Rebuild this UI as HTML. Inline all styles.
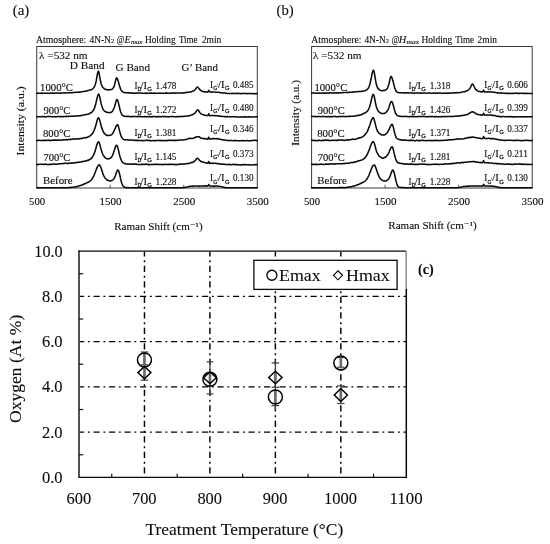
<!DOCTYPE html>
<html lang="en">
<head>
<meta charset="utf-8">
<title>Raman spectra and oxygen content</title>
<style>
html,body{margin:0;padding:0;background:#fff;}
body{width:550px;height:544px;overflow:hidden;font-family:"Liberation Serif","DejaVu Serif",serif;}
svg text{font-family:"Liberation Serif","DejaVu Serif",serif;white-space:pre;}
</style>
</head>
<body>
<svg width="550" height="544" viewBox="0 0 550 544" style="display:block;font-family:'Liberation Serif', 'DejaVu Serif', serif">
<rect x="0" y="0" width="550" height="544" fill="#ffffff"/>
<rect x="36.7" y="46.5" width="220.6" height="141.5" fill="none" stroke="#3a3a3a" stroke-width="1"/>
<line x1="110.2" y1="188.0" x2="110.2" y2="184.8" stroke="#333" stroke-width="0.8"/>
<line x1="183.8" y1="188.0" x2="183.8" y2="184.8" stroke="#333" stroke-width="0.8"/>
<path d="M36.7 93.23 L37.2 93.20 L37.7 93.23 L38.2 93.13 L38.7 93.26 L39.2 93.33 L39.7 93.32 L40.2 93.17 L40.7 93.19 L41.2 93.14 L41.7 93.10 L42.2 93.28 L42.7 93.39 L43.2 93.17 L43.7 93.29 L44.2 93.28 L44.7 93.21 L45.2 93.14 L45.7 93.21 L46.2 93.19 L46.7 93.25 L47.2 93.27 L47.7 93.12 L48.2 93.23 L48.7 93.35 L49.2 93.42 L49.7 93.34 L50.2 93.13 L50.7 93.01 L51.2 92.97 L51.7 93.19 L52.2 93.12 L52.7 93.10 L53.2 93.25 L53.7 93.15 L54.2 93.17 L54.7 93.14 L55.2 93.02 L55.7 93.10 L56.2 93.22 L56.7 93.08 L57.2 93.02 L57.7 93.04 L58.2 92.94 L58.7 93.01 L59.2 93.15 L59.7 93.17 L60.2 93.14 L60.7 93.22 L61.2 93.05 L61.7 93.07 L62.2 93.02 L62.7 93.06 L63.2 92.93 L63.7 93.05 L64.2 92.90 L64.7 92.84 L65.2 92.99 L65.7 93.10 L66.2 93.01 L66.7 92.94 L67.2 92.84 L67.7 92.79 L68.2 92.85 L68.7 92.75 L69.2 92.66 L69.7 92.70 L70.2 92.62 L70.7 92.71 L71.2 92.80 L71.7 92.82 L72.2 92.73 L72.7 92.62 L73.2 92.58 L73.7 92.41 L74.2 92.51 L74.7 92.43 L75.2 92.37 L75.7 92.24 L76.2 92.26 L76.7 92.29 L77.2 92.23 L77.7 92.31 L78.2 92.28 L78.7 92.11 L79.2 92.07 L79.7 92.14 L80.2 92.04 L80.7 91.98 L81.2 91.76 L81.7 91.73 L82.2 91.68 L82.7 91.60 L83.2 91.53 L83.7 91.51 L84.2 91.45 L84.7 91.36 L85.2 91.18 L85.7 91.12 L86.2 91.20 L86.7 91.04 L87.2 90.79 L87.7 90.59 L88.2 90.58 L88.7 90.37 L89.2 90.20 L89.7 90.03 L90.2 89.96 L90.7 89.98 L91.2 89.73 L91.7 89.45 L92.2 89.12 L92.7 88.76 L93.2 88.28 L93.7 87.76 L94.2 87.08 L94.7 86.06 L95.2 84.65 L95.7 82.95 L96.2 80.88 L96.7 78.10 L97.2 75.18 L97.7 72.68 L98.2 71.25 L98.7 71.59 L99.2 73.74 L99.7 76.79 L100.2 79.60 L100.7 82.05 L101.2 83.98 L101.7 85.27 L102.2 86.40 L102.7 87.20 L103.2 87.87 L103.7 88.14 L104.2 88.66 L104.7 89.00 L105.2 89.33 L105.7 89.58 L106.2 89.57 L106.7 89.72 L107.2 89.68 L107.7 89.81 L108.2 90.00 L108.7 89.88 L109.2 89.86 L109.7 89.74 L110.2 89.67 L110.7 89.58 L111.2 89.40 L111.7 89.43 L112.2 89.23 L112.7 88.71 L113.2 88.12 L113.7 87.23 L114.2 85.94 L114.7 84.21 L115.2 82.18 L115.7 79.96 L116.2 78.20 L116.7 77.87 L117.2 78.49 L117.7 79.62 L118.2 81.03 L118.7 82.85 L119.2 84.79 L119.7 86.60 L120.2 88.12 L120.7 89.23 L121.2 90.25 L121.7 90.91 L122.2 91.40 L122.7 91.80 L123.2 92.12 L123.7 92.41 L124.2 92.55 L124.7 92.54 L125.2 92.67 L125.7 92.70 L126.2 92.73 L126.7 92.68 L127.2 92.72 L127.7 92.72 L128.2 92.85 L128.7 92.86 L129.2 92.86 L129.7 92.88 L130.2 92.90 L130.7 92.98 L131.2 93.04 L131.7 93.11 L132.2 93.03 L132.7 93.11 L133.2 93.21 L133.7 93.28 L134.2 93.24 L134.7 93.03 L135.2 93.15 L135.7 93.22 L136.2 93.02 L136.7 93.00 L137.2 93.00 L137.7 93.12 L138.2 93.15 L138.7 93.08 L139.2 93.01 L139.7 92.97 L140.2 92.93 L140.7 93.11 L141.2 93.26 L141.7 93.13 L142.2 93.22 L142.7 93.33 L143.2 93.16 L143.7 93.19 L144.2 93.16 L144.7 93.31 L145.2 93.36 L145.7 93.14 L146.2 93.07 L146.7 93.22 L147.2 93.23 L147.7 93.22 L148.2 93.30 L148.7 93.33 L149.2 93.40 L149.7 93.25 L150.2 93.09 L150.7 93.19 L151.2 93.06 L151.7 93.14 L152.2 93.27 L152.7 93.21 L153.2 93.23 L153.7 93.12 L154.2 93.05 L154.7 93.15 L155.2 93.28 L155.7 93.39 L156.2 93.16 L156.7 93.30 L157.2 93.26 L157.7 93.19 L158.2 93.16 L158.7 93.20 L159.2 93.16 L159.7 93.07 L160.2 93.24 L160.7 93.28 L161.2 93.28 L161.7 93.31 L162.2 93.40 L162.7 93.21 L163.2 93.30 L163.7 93.35 L164.2 93.23 L164.7 93.23 L165.2 93.20 L165.7 93.11 L166.2 93.13 L166.7 93.05 L167.2 93.24 L167.7 93.13 L168.2 93.20 L168.7 93.21 L169.2 93.34 L169.7 93.36 L170.2 93.24 L170.7 93.18 L171.2 93.04 L171.7 92.97 L172.2 93.01 L172.7 93.21 L173.2 93.06 L173.7 93.01 L174.2 93.12 L174.7 93.09 L175.2 93.02 L175.7 93.21 L176.2 93.04 L176.7 93.10 L177.2 93.08 L177.7 93.04 L178.2 92.97 L178.7 92.91 L179.2 92.94 L179.7 93.06 L180.2 93.02 L180.7 93.09 L181.2 93.14 L181.7 92.94 L182.2 93.03 L182.7 92.98 L183.2 92.88 L183.7 92.84 L184.2 92.91 L184.7 92.77 L185.2 92.59 L185.7 92.72 L186.2 92.51 L186.7 92.37 L187.2 92.44 L187.7 92.32 L188.2 92.22 L188.7 92.23 L189.2 92.26 L189.7 92.08 L190.2 92.09 L190.7 91.96 L191.2 91.83 L191.7 91.66 L192.2 91.33 L192.7 91.10 L193.2 91.01 L193.7 90.83 L194.2 90.37 L194.7 90.05 L195.2 89.55 L195.7 88.97 L196.2 88.24 L196.7 87.50 L197.2 87.05 L197.7 87.18 L198.2 87.43 L198.7 88.20 L199.2 88.87 L199.7 89.34 L200.2 90.00 L200.7 90.25 L201.2 90.74 L201.7 90.94 L202.2 91.29 L202.7 91.49 L203.2 91.54 L203.7 91.69 L204.2 91.91 L204.7 91.83 L205.2 91.82 L205.7 91.87 L206.2 92.07 L206.7 92.02 L207.2 92.01 L207.7 92.12 L208.2 91.41 L208.7 90.25 L209.2 91.42 L209.7 92.03 L210.2 91.94 L210.7 91.89 L211.2 91.86 L211.7 92.06 L212.2 92.22 L212.7 92.05 L213.2 92.04 L213.7 91.92 L214.2 91.99 L214.7 92.10 L215.2 92.16 L215.7 92.30 L216.2 92.29 L216.7 92.16 L217.2 92.21 L217.7 92.29 L218.2 92.33 L218.7 92.30 L219.2 92.48 L219.7 92.58 L220.2 92.73 L220.7 92.74 L221.2 92.69 L221.7 92.75 L222.2 92.78 L222.7 92.90 L223.2 92.90 L223.7 92.90 L224.2 93.05 L224.7 93.03 L225.2 93.02 L225.7 93.04 L226.2 93.23 L226.7 93.37 L227.2 93.46 L227.7 93.44 L228.2 93.46 L228.7 93.50 L229.2 93.44 L229.7 93.43 L230.2 93.49 L230.7 93.50 L231.2 93.50 L231.7 93.51 L232.2 93.49 L232.7 93.38 L233.2 93.35 L233.7 93.45 L234.2 93.43 L234.7 93.55 L235.2 93.47 L235.7 93.52 L236.2 93.38 L236.7 93.36 L237.2 93.52 L237.7 93.41 L238.2 93.48 L238.7 93.34 L239.2 93.44 L239.7 93.45 L240.2 93.59 L240.7 93.64 L241.2 93.66 L241.7 93.54 L242.2 93.58 L242.7 93.44 L243.2 93.47 L243.7 93.46 L244.2 93.47 L244.7 93.42 L245.2 93.38 L245.7 93.45 L246.2 93.53 L246.7 93.54 L247.2 93.67 L247.7 93.62 L248.2 93.47 L248.7 93.54 L249.2 93.48 L249.7 93.63 L250.2 93.47 L250.7 93.49 L251.2 93.56 L251.7 93.68 L252.2 93.62 L252.7 93.54 L253.2 93.62 L253.7 93.66 L254.2 93.72 L254.7 93.70 L255.2 93.51 L255.7 93.66 L256.2 93.73 L256.7 93.62 L257.2 93.62" fill="none" stroke="#0a0a0a" stroke-width="1.55" stroke-linejoin="round" stroke-linecap="round"/>
<path d="M36.7 116.69 L37.2 116.71 L37.7 116.83 L38.2 116.76 L38.7 116.73 L39.2 116.74 L39.7 116.63 L40.2 116.66 L40.7 116.71 L41.2 116.79 L41.7 116.62 L42.2 116.59 L42.7 116.51 L43.2 116.68 L43.7 116.74 L44.2 116.58 L44.7 116.77 L45.2 116.87 L45.7 116.83 L46.2 116.79 L46.7 116.64 L47.2 116.51 L47.7 116.59 L48.2 116.50 L48.7 116.48 L49.2 116.49 L49.7 116.43 L50.2 116.52 L50.7 116.57 L51.2 116.71 L51.7 116.69 L52.2 116.72 L52.7 116.69 L53.2 116.72 L53.7 116.67 L54.2 116.59 L54.7 116.76 L55.2 116.85 L55.7 116.85 L56.2 116.82 L56.7 116.67 L57.2 116.57 L57.7 116.53 L58.2 116.44 L58.7 116.59 L59.2 116.57 L59.7 116.69 L60.2 116.61 L60.7 116.74 L61.2 116.77 L61.7 116.53 L62.2 116.46 L62.7 116.63 L63.2 116.58 L63.7 116.71 L64.2 116.60 L64.7 116.44 L65.2 116.51 L65.7 116.59 L66.2 116.47 L66.7 116.35 L67.2 116.35 L67.7 116.53 L68.2 116.56 L68.7 116.38 L69.2 116.31 L69.7 116.22 L70.2 116.15 L70.7 116.32 L71.2 116.22 L71.7 116.26 L72.2 116.24 L72.7 116.14 L73.2 116.23 L73.7 116.09 L74.2 116.15 L74.7 116.01 L75.2 116.01 L75.7 115.93 L76.2 115.88 L76.7 116.04 L77.2 116.06 L77.7 115.90 L78.2 115.96 L78.7 115.77 L79.2 115.69 L79.7 115.76 L80.2 115.71 L80.7 115.49 L81.2 115.60 L81.7 115.40 L82.2 115.26 L82.7 115.31 L83.2 115.16 L83.7 115.03 L84.2 114.85 L84.7 114.71 L85.2 114.73 L85.7 114.58 L86.2 114.56 L86.7 114.41 L87.2 114.29 L87.7 114.31 L88.2 114.09 L88.7 113.92 L89.2 113.81 L89.7 113.44 L90.2 113.10 L90.7 112.98 L91.2 112.72 L91.7 112.19 L92.2 111.62 L92.7 111.15 L93.2 110.56 L93.7 109.54 L94.2 108.62 L94.7 107.40 L95.2 105.83 L95.7 103.99 L96.2 101.87 L96.7 99.64 L97.2 97.73 L97.7 95.77 L98.2 94.58 L98.7 94.09 L99.2 95.02 L99.7 96.92 L100.2 99.24 L100.7 101.59 L101.2 103.88 L101.7 105.58 L102.2 107.04 L102.7 108.32 L103.2 109.41 L103.7 110.18 L104.2 110.69 L104.7 111.32 L105.2 111.59 L105.7 111.78 L106.2 112.04 L106.7 112.29 L107.2 112.36 L107.7 112.46 L108.2 112.58 L108.7 112.69 L109.2 112.59 L109.7 112.56 L110.2 112.61 L110.7 112.56 L111.2 112.28 L111.7 111.94 L112.2 111.46 L112.7 110.72 L113.2 109.84 L113.7 108.79 L114.2 107.77 L114.7 106.28 L115.2 104.56 L115.7 102.38 L116.2 100.69 L116.7 99.63 L117.2 99.70 L117.7 100.47 L118.2 102.14 L118.7 103.89 L119.2 106.06 L119.7 108.26 L120.2 110.28 L120.7 111.92 L121.2 113.23 L121.7 114.25 L122.2 115.02 L122.7 115.37 L123.2 115.73 L123.7 116.03 L124.2 116.20 L124.7 116.18 L125.2 116.30 L125.7 116.40 L126.2 116.38 L126.7 116.40 L127.2 116.35 L127.7 116.39 L128.2 116.43 L128.7 116.31 L129.2 116.41 L129.7 116.58 L130.2 116.65 L130.7 116.65 L131.2 116.55 L131.7 116.61 L132.2 116.60 L132.7 116.56 L133.2 116.66 L133.7 116.49 L134.2 116.60 L134.7 116.45 L135.2 116.54 L135.7 116.56 L136.2 116.50 L136.7 116.61 L137.2 116.61 L137.7 116.64 L138.2 116.76 L138.7 116.63 L139.2 116.48 L139.7 116.49 L140.2 116.61 L140.7 116.53 L141.2 116.49 L141.7 116.68 L142.2 116.71 L142.7 116.67 L143.2 116.78 L143.7 116.67 L144.2 116.72 L144.7 116.60 L145.2 116.61 L145.7 116.72 L146.2 116.82 L146.7 116.87 L147.2 116.74 L147.7 116.74 L148.2 116.65 L148.7 116.55 L149.2 116.61 L149.7 116.74 L150.2 116.82 L150.7 116.82 L151.2 116.89 L151.7 116.73 L152.2 116.61 L152.7 116.63 L153.2 116.59 L153.7 116.55 L154.2 116.58 L154.7 116.67 L155.2 116.67 L155.7 116.63 L156.2 116.75 L156.7 116.87 L157.2 116.77 L157.7 116.61 L158.2 116.51 L158.7 116.70 L159.2 116.56 L159.7 116.68 L160.2 116.71 L160.7 116.64 L161.2 116.75 L161.7 116.58 L162.2 116.52 L162.7 116.59 L163.2 116.49 L163.7 116.68 L164.2 116.61 L164.7 116.54 L165.2 116.47 L165.7 116.61 L166.2 116.63 L166.7 116.69 L167.2 116.74 L167.7 116.81 L168.2 116.89 L168.7 116.85 L169.2 116.69 L169.7 116.68 L170.2 116.58 L170.7 116.48 L171.2 116.56 L171.7 116.67 L172.2 116.58 L172.7 116.55 L173.2 116.55 L173.7 116.66 L174.2 116.66 L174.7 116.69 L175.2 116.74 L175.7 116.66 L176.2 116.73 L176.7 116.79 L177.2 116.58 L177.7 116.71 L178.2 116.71 L178.7 116.53 L179.2 116.51 L179.7 116.55 L180.2 116.64 L180.7 116.52 L181.2 116.50 L181.7 116.57 L182.2 116.56 L182.7 116.58 L183.2 116.44 L183.7 116.39 L184.2 116.21 L184.7 116.24 L185.2 116.26 L185.7 116.19 L186.2 116.15 L186.7 115.94 L187.2 116.00 L187.7 116.01 L188.2 115.98 L188.7 115.80 L189.2 115.72 L189.7 115.49 L190.2 115.49 L190.7 115.41 L191.2 115.15 L191.7 114.86 L192.2 114.71 L192.7 114.57 L193.2 114.43 L193.7 114.12 L194.2 113.63 L194.7 113.37 L195.2 112.72 L195.7 112.24 L196.2 111.42 L196.7 110.67 L197.2 110.22 L197.7 109.87 L198.2 110.03 L198.7 110.69 L199.2 111.52 L199.7 112.33 L200.2 112.95 L200.7 113.54 L201.2 113.86 L201.7 114.27 L202.2 114.33 L202.7 114.47 L203.2 114.71 L203.7 114.82 L204.2 115.06 L204.7 115.20 L205.2 115.28 L205.7 115.44 L206.2 115.48 L206.7 115.44 L207.2 115.45 L207.7 115.61 L208.2 114.96 L208.7 113.68 L209.2 114.93 L209.7 115.78 L210.2 115.70 L210.7 115.67 L211.2 115.53 L211.7 115.55 L212.2 115.55 L212.7 115.58 L213.2 115.42 L213.7 115.62 L214.2 115.60 L214.7 115.56 L215.2 115.68 L215.7 115.68 L216.2 115.69 L216.7 115.77 L217.2 115.66 L217.7 115.77 L218.2 115.82 L218.7 116.05 L219.2 116.19 L219.7 116.11 L220.2 116.16 L220.7 116.11 L221.2 116.21 L221.7 116.40 L222.2 116.56 L222.7 116.54 L223.2 116.51 L223.7 116.47 L224.2 116.59 L224.7 116.77 L225.2 116.64 L225.7 116.77 L226.2 116.63 L226.7 116.61 L227.2 116.62 L227.7 116.76 L228.2 116.74 L228.7 116.74 L229.2 116.82 L229.7 116.72 L230.2 116.85 L230.7 116.74 L231.2 116.80 L231.7 116.76 L232.2 116.72 L232.7 116.80 L233.2 116.82 L233.7 116.81 L234.2 116.82 L234.7 116.86 L235.2 116.77 L235.7 116.74 L236.2 116.85 L236.7 116.91 L237.2 116.92 L237.7 117.02 L238.2 117.00 L238.7 117.07 L239.2 116.92 L239.7 116.99 L240.2 117.05 L240.7 117.11 L241.2 116.97 L241.7 116.89 L242.2 117.03 L242.7 116.90 L243.2 117.06 L243.7 117.12 L244.2 116.92 L244.7 116.85 L245.2 116.96 L245.7 116.87 L246.2 116.78 L246.7 116.95 L247.2 116.92 L247.7 117.02 L248.2 116.87 L248.7 116.87 L249.2 116.96 L249.7 116.81 L250.2 116.78 L250.7 116.91 L251.2 117.04 L251.7 117.14 L252.2 116.94 L252.7 116.94 L253.2 117.02 L253.7 116.98 L254.2 117.02 L254.7 116.89 L255.2 116.79 L255.7 116.74 L256.2 116.69 L256.7 116.82 L257.2 116.88" fill="none" stroke="#0a0a0a" stroke-width="1.55" stroke-linejoin="round" stroke-linecap="round"/>
<path d="M36.7 140.52 L37.2 140.59 L37.7 140.63 L38.2 140.43 L38.7 140.25 L39.2 140.32 L39.7 140.30 L40.2 140.53 L40.7 140.60 L41.2 140.59 L41.7 140.57 L42.2 140.60 L42.7 140.39 L43.2 140.40 L43.7 140.28 L44.2 140.54 L44.7 140.31 L45.2 140.50 L45.7 140.29 L46.2 140.43 L46.7 140.35 L47.2 140.34 L47.7 140.51 L48.2 140.25 L48.7 140.12 L49.2 140.41 L49.7 140.39 L50.2 140.20 L50.7 140.47 L51.2 140.60 L51.7 140.30 L52.2 140.27 L52.7 140.12 L53.2 140.11 L53.7 140.23 L54.2 140.09 L54.7 140.24 L55.2 140.03 L55.7 139.96 L56.2 140.20 L56.7 140.14 L57.2 140.10 L57.7 140.15 L58.2 140.12 L58.7 140.05 L59.2 139.85 L59.7 140.04 L60.2 140.23 L60.7 140.33 L61.2 140.24 L61.7 140.05 L62.2 139.93 L62.7 140.00 L63.2 140.02 L63.7 139.77 L64.2 139.68 L64.7 139.67 L65.2 139.72 L65.7 139.86 L66.2 139.79 L66.7 139.54 L67.2 139.72 L67.7 139.65 L68.2 139.63 L68.7 139.47 L69.2 139.46 L69.7 139.42 L70.2 139.55 L70.7 139.32 L71.2 139.37 L71.7 139.22 L72.2 139.34 L72.7 139.11 L73.2 139.06 L73.7 139.05 L74.2 139.15 L74.7 138.94 L75.2 138.97 L75.7 138.87 L76.2 138.82 L76.7 138.86 L77.2 139.06 L77.7 138.95 L78.2 139.07 L78.7 138.77 L79.2 138.90 L79.7 138.71 L80.2 138.50 L80.7 138.60 L81.2 138.69 L81.7 138.32 L82.2 138.19 L82.7 138.30 L83.2 138.14 L83.7 137.96 L84.2 137.72 L84.7 137.55 L85.2 137.65 L85.7 137.80 L86.2 137.83 L86.7 137.55 L87.2 137.11 L87.7 136.91 L88.2 136.90 L88.7 136.79 L89.2 136.52 L89.7 136.04 L90.2 135.74 L90.7 135.35 L91.2 134.97 L91.7 134.33 L92.2 133.96 L92.7 133.36 L93.2 132.28 L93.7 131.23 L94.2 130.31 L94.7 128.84 L95.2 127.54 L95.7 125.76 L96.2 123.95 L96.7 122.09 L97.2 120.13 L97.7 118.66 L98.2 117.81 L98.7 117.94 L99.2 118.82 L99.7 120.06 L100.2 122.10 L100.7 123.95 L101.2 125.70 L101.7 127.41 L102.2 129.15 L102.7 130.37 L103.2 131.44 L103.7 132.47 L104.2 133.30 L104.7 133.87 L105.2 134.21 L105.7 134.59 L106.2 135.04 L106.7 135.32 L107.2 135.42 L107.7 135.41 L108.2 135.41 L108.7 135.55 L109.2 135.50 L109.7 135.16 L110.2 135.17 L110.7 135.12 L111.2 134.87 L111.7 134.56 L112.2 134.12 L112.7 133.40 L113.2 132.72 L113.7 131.71 L114.2 130.52 L114.7 129.41 L115.2 128.19 L115.7 127.23 L116.2 126.15 L116.7 125.24 L117.2 124.79 L117.7 124.67 L118.2 125.68 L118.7 127.43 L119.2 129.37 L119.7 131.35 L120.2 133.32 L120.7 134.98 L121.2 136.48 L121.7 137.35 L122.2 137.99 L122.7 138.55 L123.2 139.08 L123.7 139.45 L124.2 139.64 L124.7 139.89 L125.2 139.81 L125.7 139.64 L126.2 139.77 L126.7 139.84 L127.2 139.78 L127.7 139.98 L128.2 139.96 L128.7 139.92 L129.2 139.94 L129.7 140.24 L130.2 140.00 L130.7 140.04 L131.2 140.03 L131.7 140.00 L132.2 140.09 L132.7 140.06 L133.2 140.35 L133.7 140.34 L134.2 140.42 L134.7 140.24 L135.2 140.28 L135.7 140.36 L136.2 140.52 L136.7 140.35 L137.2 140.35 L137.7 140.53 L138.2 140.62 L138.7 140.41 L139.2 140.44 L139.7 140.55 L140.2 140.46 L140.7 140.53 L141.2 140.57 L141.7 140.72 L142.2 140.63 L142.7 140.64 L143.2 140.50 L143.7 140.59 L144.2 140.47 L144.7 140.48 L145.2 140.43 L145.7 140.38 L146.2 140.28 L146.7 140.26 L147.2 140.39 L147.7 140.34 L148.2 140.22 L148.7 140.49 L149.2 140.41 L149.7 140.65 L150.2 140.64 L150.7 140.54 L151.2 140.70 L151.7 140.80 L152.2 140.60 L152.7 140.41 L153.2 140.53 L153.7 140.69 L154.2 140.67 L154.7 140.74 L155.2 140.62 L155.7 140.64 L156.2 140.50 L156.7 140.48 L157.2 140.46 L157.7 140.46 L158.2 140.46 L158.7 140.64 L159.2 140.46 L159.7 140.38 L160.2 140.35 L160.7 140.65 L161.2 140.62 L161.7 140.40 L162.2 140.62 L162.7 140.75 L163.2 140.80 L163.7 140.63 L164.2 140.70 L164.7 140.55 L165.2 140.40 L165.7 140.62 L166.2 140.73 L166.7 140.52 L167.2 140.70 L167.7 140.42 L168.2 140.39 L168.7 140.24 L169.2 140.22 L169.7 140.21 L170.2 140.43 L170.7 140.37 L171.2 140.29 L171.7 140.23 L172.2 140.25 L172.7 140.50 L173.2 140.51 L173.7 140.29 L174.2 140.42 L174.7 140.41 L175.2 140.36 L175.7 140.35 L176.2 140.39 L176.7 140.46 L177.2 140.36 L177.7 140.34 L178.2 140.24 L178.7 140.24 L179.2 140.12 L179.7 140.04 L180.2 140.02 L180.7 140.08 L181.2 139.89 L181.7 140.05 L182.2 139.92 L182.7 139.98 L183.2 139.91 L183.7 139.96 L184.2 139.84 L184.7 139.63 L185.2 139.48 L185.7 139.45 L186.2 139.46 L186.7 139.48 L187.2 139.14 L187.7 138.89 L188.2 138.74 L188.7 138.61 L189.2 138.49 L189.7 138.36 L190.2 138.36 L190.7 138.25 L191.2 138.40 L191.7 138.40 L192.2 138.51 L192.7 138.50 L193.2 138.35 L193.7 138.28 L194.2 137.76 L194.7 137.48 L195.2 137.52 L195.7 137.25 L196.2 136.89 L196.7 136.86 L197.2 136.68 L197.7 136.66 L198.2 136.63 L198.7 136.69 L199.2 136.79 L199.7 137.18 L200.2 137.64 L200.7 138.00 L201.2 138.17 L201.7 138.40 L202.2 138.34 L202.7 138.32 L203.2 138.63 L203.7 138.69 L204.2 138.79 L204.7 138.59 L205.2 138.60 L205.7 138.74 L206.2 138.93 L206.7 139.10 L207.2 139.16 L207.7 139.02 L208.2 138.20 L208.7 137.23 L209.2 138.50 L209.7 139.11 L210.2 138.88 L210.7 138.92 L211.2 138.89 L211.7 138.78 L212.2 138.64 L212.7 138.61 L213.2 138.69 L213.7 138.50 L214.2 138.58 L214.7 138.80 L215.2 138.83 L215.7 138.65 L216.2 138.64 L216.7 138.53 L217.2 138.77 L217.7 138.89 L218.2 138.81 L218.7 138.96 L219.2 139.12 L219.7 139.25 L220.2 139.28 L220.7 139.32 L221.2 139.42 L221.7 139.79 L222.2 139.76 L222.7 139.86 L223.2 139.94 L223.7 139.89 L224.2 140.00 L224.7 140.00 L225.2 140.08 L225.7 140.16 L226.2 140.22 L226.7 140.52 L227.2 140.43 L227.7 140.40 L228.2 140.54 L228.7 140.51 L229.2 140.55 L229.7 140.63 L230.2 140.43 L230.7 140.58 L231.2 140.42 L231.7 140.40 L232.2 140.63 L232.7 140.84 L233.2 140.82 L233.7 140.59 L234.2 140.58 L234.7 140.51 L235.2 140.71 L235.7 140.56 L236.2 140.46 L236.7 140.60 L237.2 140.67 L237.7 140.69 L238.2 140.66 L238.7 140.84 L239.2 140.73 L239.7 140.88 L240.2 140.72 L240.7 140.67 L241.2 140.59 L241.7 140.70 L242.2 140.78 L242.7 140.60 L243.2 140.63 L243.7 140.73 L244.2 140.69 L244.7 140.74 L245.2 140.74 L245.7 140.79 L246.2 140.66 L246.7 140.57 L247.2 140.39 L247.7 140.67 L248.2 140.78 L248.7 140.67 L249.2 140.86 L249.7 140.93 L250.2 140.65 L250.7 140.79 L251.2 140.69 L251.7 140.59 L252.2 140.51 L252.7 140.53 L253.2 140.39 L253.7 140.31 L254.2 140.29 L254.7 140.37 L255.2 140.34 L255.7 140.31 L256.2 140.61 L256.7 140.57 L257.2 140.60" fill="none" stroke="#0a0a0a" stroke-width="1.55" stroke-linejoin="round" stroke-linecap="round"/>
<path d="M36.7 164.33 L37.2 164.45 L37.7 164.52 L38.2 164.62 L38.7 164.39 L39.2 164.28 L39.7 164.18 L40.2 164.16 L40.7 164.37 L41.2 164.22 L41.7 164.30 L42.2 164.21 L42.7 164.19 L43.2 164.24 L43.7 164.44 L44.2 164.44 L44.7 164.19 L45.2 164.15 L45.7 164.08 L46.2 164.34 L46.7 164.46 L47.2 164.51 L47.7 164.55 L48.2 164.53 L48.7 164.60 L49.2 164.57 L49.7 164.31 L50.2 164.42 L50.7 164.32 L51.2 164.37 L51.7 164.31 L52.2 164.21 L52.7 164.12 L53.2 164.09 L53.7 164.02 L54.2 163.88 L54.7 164.10 L55.2 164.21 L55.7 164.33 L56.2 164.27 L56.7 164.16 L57.2 164.18 L57.7 163.91 L58.2 163.98 L58.7 163.91 L59.2 163.75 L59.7 163.65 L60.2 163.73 L60.7 163.64 L61.2 163.67 L61.7 163.73 L62.2 163.66 L62.7 163.49 L63.2 163.54 L63.7 163.44 L64.2 163.37 L64.7 163.30 L65.2 163.31 L65.7 163.18 L66.2 163.34 L66.7 163.54 L67.2 163.39 L67.7 163.43 L68.2 163.52 L68.7 163.17 L69.2 163.00 L69.7 163.18 L70.2 163.27 L70.7 163.21 L71.2 162.95 L71.7 162.90 L72.2 163.04 L72.7 163.11 L73.2 163.09 L73.7 162.79 L74.2 162.89 L74.7 162.71 L75.2 162.74 L75.7 162.48 L76.2 162.67 L76.7 162.60 L77.2 162.58 L77.7 162.32 L78.2 162.33 L78.7 162.30 L79.2 162.25 L79.7 162.10 L80.2 162.14 L80.7 161.97 L81.2 161.83 L81.7 161.66 L82.2 161.75 L82.7 161.52 L83.2 161.41 L83.7 161.24 L84.2 161.35 L84.7 161.33 L85.2 161.26 L85.7 160.95 L86.2 160.89 L86.7 160.76 L87.2 160.50 L87.7 160.24 L88.2 160.43 L88.7 160.06 L89.2 159.80 L89.7 159.50 L90.2 159.31 L90.7 158.77 L91.2 158.40 L91.7 157.86 L92.2 157.43 L92.7 156.42 L93.2 155.54 L93.7 154.58 L94.2 153.63 L94.7 152.21 L95.2 150.64 L95.7 149.06 L96.2 147.21 L96.7 145.31 L97.2 143.85 L97.7 142.83 L98.2 142.12 L98.7 141.79 L99.2 142.57 L99.7 144.13 L100.2 145.82 L100.7 147.87 L101.2 149.72 L101.7 151.36 L102.2 152.82 L102.7 154.02 L103.2 155.09 L103.7 155.83 L104.2 156.62 L104.7 157.11 L105.2 157.81 L105.7 158.24 L106.2 158.30 L106.7 158.72 L107.2 158.72 L107.7 158.85 L108.2 158.92 L108.7 158.81 L109.2 158.64 L109.7 158.49 L110.2 158.11 L110.7 158.00 L111.2 157.33 L111.7 156.93 L112.2 156.01 L112.7 155.02 L113.2 153.87 L113.7 152.34 L114.2 150.72 L114.7 149.07 L115.2 147.44 L115.7 146.24 L116.2 145.57 L116.7 145.21 L117.2 145.96 L117.7 147.14 L118.2 149.16 L118.7 151.14 L119.2 153.49 L119.7 155.52 L120.2 157.20 L120.7 158.64 L121.2 159.97 L121.7 161.27 L122.2 161.88 L122.7 162.49 L123.2 162.87 L123.7 163.12 L124.2 163.49 L124.7 163.47 L125.2 163.70 L125.7 163.83 L126.2 164.03 L126.7 163.98 L127.2 164.14 L127.7 164.03 L128.2 164.04 L128.7 164.08 L129.2 164.21 L129.7 164.32 L130.2 164.05 L130.7 163.92 L131.2 164.03 L131.7 164.22 L132.2 164.21 L132.7 164.11 L133.2 164.35 L133.7 164.20 L134.2 164.04 L134.7 163.94 L135.2 163.88 L135.7 164.15 L136.2 164.04 L136.7 164.24 L137.2 164.43 L137.7 164.59 L138.2 164.60 L138.7 164.44 L139.2 164.45 L139.7 164.54 L140.2 164.55 L140.7 164.37 L141.2 164.48 L141.7 164.26 L142.2 164.23 L142.7 164.51 L143.2 164.44 L143.7 164.32 L144.2 164.47 L144.7 164.42 L145.2 164.19 L145.7 164.09 L146.2 164.13 L146.7 164.18 L147.2 164.48 L147.7 164.34 L148.2 164.53 L148.7 164.63 L149.2 164.50 L149.7 164.68 L150.2 164.68 L150.7 164.56 L151.2 164.40 L151.7 164.40 L152.2 164.59 L152.7 164.54 L153.2 164.36 L153.7 164.35 L154.2 164.38 L154.7 164.28 L155.2 164.39 L155.7 164.21 L156.2 164.46 L156.7 164.32 L157.2 164.21 L157.7 164.36 L158.2 164.32 L158.7 164.55 L159.2 164.51 L159.7 164.49 L160.2 164.62 L160.7 164.43 L161.2 164.55 L161.7 164.57 L162.2 164.49 L162.7 164.68 L163.2 164.37 L163.7 164.57 L164.2 164.37 L164.7 164.55 L165.2 164.36 L165.7 164.21 L166.2 164.32 L166.7 164.57 L167.2 164.41 L167.7 164.43 L168.2 164.48 L168.7 164.36 L169.2 164.41 L169.7 164.21 L170.2 164.29 L170.7 164.47 L171.2 164.39 L171.7 164.28 L172.2 164.15 L172.7 164.36 L173.2 164.35 L173.7 164.55 L174.2 164.58 L174.7 164.32 L175.2 164.52 L175.7 164.63 L176.2 164.64 L176.7 164.64 L177.2 164.57 L177.7 164.54 L178.2 164.48 L178.7 164.41 L179.2 164.22 L179.7 164.04 L180.2 164.19 L180.7 164.20 L181.2 163.96 L181.7 164.06 L182.2 164.08 L182.7 164.03 L183.2 164.09 L183.7 164.15 L184.2 163.94 L184.7 163.99 L185.2 163.85 L185.7 163.78 L186.2 163.64 L186.7 163.75 L187.2 163.57 L187.7 163.65 L188.2 163.40 L188.7 163.36 L189.2 163.39 L189.7 163.27 L190.2 163.01 L190.7 162.69 L191.2 162.62 L191.7 162.47 L192.2 162.48 L192.7 162.38 L193.2 162.28 L193.7 161.85 L194.2 161.42 L194.7 161.04 L195.2 160.65 L195.7 159.86 L196.2 159.20 L196.7 158.59 L197.2 158.29 L197.7 158.26 L198.2 158.85 L198.7 159.18 L199.2 159.99 L199.7 160.39 L200.2 160.75 L200.7 161.42 L201.2 161.52 L201.7 161.67 L202.2 161.84 L202.7 161.97 L203.2 162.23 L203.7 162.35 L204.2 162.44 L204.7 162.46 L205.2 162.79 L205.7 162.73 L206.2 162.79 L206.7 162.99 L207.2 163.25 L207.7 163.32 L208.2 162.62 L208.7 161.52 L209.2 162.72 L209.7 163.55 L210.2 163.28 L210.7 163.09 L211.2 163.23 L211.7 163.26 L212.2 163.28 L212.7 163.41 L213.2 163.22 L213.7 163.36 L214.2 163.32 L214.7 163.31 L215.2 163.25 L215.7 163.25 L216.2 163.40 L216.7 163.49 L217.2 163.73 L217.7 163.61 L218.2 163.77 L218.7 163.62 L219.2 163.81 L219.7 163.74 L220.2 164.03 L220.7 164.26 L221.2 164.11 L221.7 164.30 L222.2 164.17 L222.7 164.16 L223.2 164.08 L223.7 164.21 L224.2 164.15 L224.7 164.39 L225.2 164.48 L225.7 164.47 L226.2 164.60 L226.7 164.47 L227.2 164.45 L227.7 164.46 L228.2 164.31 L228.7 164.62 L229.2 164.45 L229.7 164.36 L230.2 164.61 L230.7 164.77 L231.2 164.69 L231.7 164.64 L232.2 164.49 L232.7 164.35 L233.2 164.50 L233.7 164.47 L234.2 164.41 L234.7 164.70 L235.2 164.49 L235.7 164.51 L236.2 164.70 L236.7 164.80 L237.2 164.58 L237.7 164.74 L238.2 164.74 L238.7 164.78 L239.2 164.93 L239.7 164.96 L240.2 164.89 L240.7 164.92 L241.2 164.82 L241.7 164.79 L242.2 164.89 L242.7 164.86 L243.2 164.74 L243.7 164.52 L244.2 164.74 L244.7 164.66 L245.2 164.66 L245.7 164.59 L246.2 164.68 L246.7 164.65 L247.2 164.83 L247.7 164.82 L248.2 164.80 L248.7 164.89 L249.2 164.79 L249.7 164.78 L250.2 164.86 L250.7 164.90 L251.2 164.93 L251.7 165.01 L252.2 164.91 L252.7 164.85 L253.2 164.66 L253.7 164.58 L254.2 164.62 L254.7 164.67 L255.2 164.87 L255.7 164.61 L256.2 164.60 L256.7 164.76 L257.2 164.73" fill="none" stroke="#0a0a0a" stroke-width="1.55" stroke-linejoin="round" stroke-linecap="round"/>
<path d="M36.7 187.75 L37.2 187.75 L37.7 187.75 L38.2 187.75 L38.7 187.75 L39.2 187.75 L39.7 187.75 L40.2 187.75 L40.7 187.75 L41.2 187.75 L41.7 187.75 L42.2 187.75 L42.7 187.75 L43.2 187.75 L43.7 187.75 L44.2 187.75 L44.7 187.75 L45.2 187.75 L45.7 187.75 L46.2 187.75 L46.7 187.75 L47.2 187.75 L47.7 187.75 L48.2 187.75 L48.7 187.75 L49.2 187.75 L49.7 187.69 L50.2 187.69 L50.7 187.75 L51.2 187.75 L51.7 187.75 L52.2 187.75 L52.7 187.75 L53.2 187.75 L53.7 187.75 L54.2 187.75 L54.7 187.75 L55.2 187.75 L55.7 187.75 L56.2 187.70 L56.7 187.75 L57.2 187.75 L57.7 187.75 L58.2 187.75 L58.7 187.72 L59.2 187.75 L59.7 187.75 L60.2 187.72 L60.7 187.75 L61.2 187.71 L61.7 187.69 L62.2 187.62 L62.7 187.74 L63.2 187.66 L63.7 187.71 L64.2 187.63 L64.7 187.67 L65.2 187.73 L65.7 187.72 L66.2 187.69 L66.7 187.68 L67.2 187.65 L67.7 187.66 L68.2 187.54 L68.7 187.54 L69.2 187.48 L69.7 187.57 L70.2 187.62 L70.7 187.43 L71.2 187.32 L71.7 187.36 L72.2 187.33 L72.7 187.16 L73.2 187.19 L73.7 187.23 L74.2 187.10 L74.7 186.97 L75.2 186.90 L75.7 186.91 L76.2 186.71 L76.7 186.56 L77.2 186.39 L77.7 186.34 L78.2 186.22 L78.7 186.04 L79.2 185.90 L79.7 185.67 L80.2 185.53 L80.7 185.52 L81.2 185.35 L81.7 185.10 L82.2 185.02 L82.7 184.75 L83.2 184.49 L83.7 184.19 L84.2 183.96 L84.7 183.74 L85.2 183.52 L85.7 183.44 L86.2 183.15 L86.7 182.87 L87.2 182.69 L87.7 182.54 L88.2 182.19 L88.7 181.96 L89.2 181.60 L89.7 181.28 L90.2 180.91 L90.7 180.57 L91.2 180.07 L91.7 179.44 L92.2 178.81 L92.7 177.94 L93.2 177.00 L93.7 176.08 L94.2 174.91 L94.7 173.71 L95.2 172.32 L95.7 171.07 L96.2 169.73 L96.7 168.37 L97.2 167.34 L97.7 166.33 L98.2 165.55 L98.7 165.05 L99.2 164.84 L99.7 165.07 L100.2 165.92 L100.7 166.98 L101.2 168.36 L101.7 169.91 L102.2 171.48 L102.7 172.94 L103.2 174.39 L103.7 175.53 L104.2 176.57 L104.7 177.47 L105.2 178.15 L105.7 178.74 L106.2 179.21 L106.7 179.72 L107.2 179.98 L107.7 180.31 L108.2 180.46 L108.7 180.68 L109.2 180.83 L109.7 180.85 L110.2 180.98 L110.7 180.95 L111.2 180.84 L111.7 180.55 L112.2 180.32 L112.7 179.95 L113.2 179.53 L113.7 179.04 L114.2 178.33 L114.7 177.21 L115.2 176.11 L115.7 174.85 L116.2 173.35 L116.7 171.79 L117.2 170.71 L117.7 170.00 L118.2 170.16 L118.7 171.06 L119.2 172.64 L119.7 174.74 L120.2 176.88 L120.7 179.26 L121.2 181.31 L121.7 183.01 L122.2 184.43 L122.7 185.53 L123.2 186.16 L123.7 186.69 L124.2 187.10 L124.7 187.29 L125.2 187.41 L125.7 187.44 L126.2 187.62 L126.7 187.56 L127.2 187.64 L127.7 187.68 L128.2 187.57 L128.7 187.74 L129.2 187.67 L129.7 187.75 L130.2 187.75 L130.7 187.75 L131.2 187.75 L131.7 187.75 L132.2 187.75 L132.7 187.75 L133.2 187.75 L133.7 187.73 L134.2 187.68 L134.7 187.75 L135.2 187.75 L135.7 187.75 L136.2 187.75 L136.7 187.75 L137.2 187.75 L137.7 187.75 L138.2 187.75 L138.7 187.75 L139.2 187.75 L139.7 187.75 L140.2 187.75 L140.7 187.75 L141.2 187.75 L141.7 187.75 L142.2 187.75 L142.7 187.75 L143.2 187.71 L143.7 187.75 L144.2 187.75 L144.7 187.75 L145.2 187.75 L145.7 187.75 L146.2 187.73 L146.7 187.72 L147.2 187.72 L147.7 187.75 L148.2 187.75 L148.7 187.73 L149.2 187.75 L149.7 187.75 L150.2 187.75 L150.7 187.75 L151.2 187.75 L151.7 187.75 L152.2 187.75 L152.7 187.75 L153.2 187.75 L153.7 187.75 L154.2 187.75 L154.7 187.75 L155.2 187.75 L155.7 187.75 L156.2 187.75 L156.7 187.75 L157.2 187.75 L157.7 187.75 L158.2 187.75 L158.7 187.75 L159.2 187.75 L159.7 187.75 L160.2 187.75 L160.7 187.75 L161.2 187.75 L161.7 187.75 L162.2 187.75 L162.7 187.75 L163.2 187.75 L163.7 187.75 L164.2 187.75 L164.7 187.75 L165.2 187.75 L165.7 187.75 L166.2 187.75 L166.7 187.75 L167.2 187.75 L167.7 187.75 L168.2 187.75 L168.7 187.75 L169.2 187.75 L169.7 187.74 L170.2 187.71 L170.7 187.75 L171.2 187.75 L171.7 187.75 L172.2 187.75 L172.7 187.75 L173.2 187.75 L173.7 187.75 L174.2 187.75 L174.7 187.75 L175.2 187.75 L175.7 187.75 L176.2 187.75 L176.7 187.75 L177.2 187.75 L177.7 187.75 L178.2 187.75 L178.7 187.75 L179.2 187.75 L179.7 187.74 L180.2 187.75 L180.7 187.73 L181.2 187.75 L181.7 187.74 L182.2 187.70 L182.7 187.72 L183.2 187.59 L183.7 187.64 L184.2 187.56 L184.7 187.55 L185.2 187.49 L185.7 187.26 L186.2 187.23 L186.7 187.16 L187.2 186.93 L187.7 186.83 L188.2 186.63 L188.7 186.55 L189.2 186.51 L189.7 186.38 L190.2 186.31 L190.7 186.16 L191.2 186.23 L191.7 186.20 L192.2 186.22 L192.7 186.06 L193.2 186.11 L193.7 185.99 L194.2 186.02 L194.7 185.97 L195.2 186.08 L195.7 185.97 L196.2 185.99 L196.7 185.99 L197.2 185.98 L197.7 185.90 L198.2 185.99 L198.7 186.11 L199.2 186.03 L199.7 186.12 L200.2 186.03 L200.7 185.97 L201.2 185.98 L201.7 186.10 L202.2 186.13 L202.7 186.11 L203.2 185.96 L203.7 185.97 L204.2 185.88 L204.7 185.84 L205.2 185.89 L205.7 185.89 L206.2 185.86 L206.7 185.93 L207.2 186.03 L207.7 186.12 L208.2 185.53 L208.7 184.48 L209.2 185.34 L209.7 186.10 L210.2 186.05 L210.7 186.00 L211.2 186.08 L211.7 186.07 L212.2 186.16 L212.7 186.15 L213.2 186.20 L213.7 186.05 L214.2 186.15 L214.7 186.13 L215.2 186.15 L215.7 186.08 L216.2 186.05 L216.7 186.05 L217.2 186.04 L217.7 186.23 L218.2 186.17 L218.7 186.20 L219.2 186.33 L219.7 186.35 L220.2 186.41 L220.7 186.49 L221.2 186.59 L221.7 186.65 L222.2 186.90 L222.7 187.07 L223.2 187.13 L223.7 187.34 L224.2 187.42 L224.7 187.42 L225.2 187.61 L225.7 187.58 L226.2 187.71 L226.7 187.75 L227.2 187.67 L227.7 187.75 L228.2 187.75 L228.7 187.75 L229.2 187.75 L229.7 187.75 L230.2 187.75 L230.7 187.72 L231.2 187.75 L231.7 187.75 L232.2 187.75 L232.7 187.75 L233.2 187.75 L233.7 187.75 L234.2 187.75 L234.7 187.75 L235.2 187.75 L235.7 187.75 L236.2 187.75 L236.7 187.75 L237.2 187.75 L237.7 187.75 L238.2 187.75 L238.7 187.75 L239.2 187.75 L239.7 187.75 L240.2 187.75 L240.7 187.75 L241.2 187.75 L241.7 187.75 L242.2 187.75 L242.7 187.75 L243.2 187.75 L243.7 187.75 L244.2 187.75 L244.7 187.75 L245.2 187.75 L245.7 187.75 L246.2 187.75 L246.7 187.75 L247.2 187.75 L247.7 187.75 L248.2 187.75 L248.7 187.75 L249.2 187.75 L249.7 187.75 L250.2 187.75 L250.7 187.75 L251.2 187.75 L251.7 187.75 L252.2 187.75 L252.7 187.75 L253.2 187.75 L253.7 187.75 L254.2 187.75 L254.7 187.75 L255.2 187.75 L255.7 187.75 L256.2 187.75 L256.7 187.75 L257.2 187.75" fill="none" stroke="#0a0a0a" stroke-width="1.55" stroke-linejoin="round" stroke-linecap="round"/>
<text x="12.70" y="15.40" font-size="14.5" textLength="16.60" lengthAdjust="spacingAndGlyphs" fill="#0c0c0c" stroke="#0c0c0c" stroke-width="0.1">(a)</text>
<text x="36.10" y="42.80" font-size="9.8" textLength="50.20" lengthAdjust="spacingAndGlyphs" fill="#0c0c0c" stroke="#0c0c0c" stroke-width="0.12">Atmosphere:</text>
<text x="89.50" y="42.70" font-size="9.8" textLength="21.30" lengthAdjust="spacingAndGlyphs" fill="#0c0c0c" stroke="#0c0c0c" stroke-width="0.12">4N-N</text>
<text x="110.90" y="43.10" font-size="5.6" textLength="3.20" lengthAdjust="spacingAndGlyphs" fill="#0c0c0c" stroke="#0c0c0c" stroke-width="0.12">2</text>
<text x="116.80" y="42.70" font-size="9.4" textLength="7.60" lengthAdjust="spacingAndGlyphs" fill="#0c0c0c" stroke="#0c0c0c" stroke-width="0.12">@</text>
<text x="124.60" y="42.70" font-size="9.8" textLength="6.20" lengthAdjust="spacingAndGlyphs" font-style="italic" fill="#0c0c0c" stroke="#0c0c0c" stroke-width="0.12">E</text>
<text x="131.00" y="44.10" font-size="5.4" textLength="11.40" lengthAdjust="spacingAndGlyphs" font-style="italic" fill="#0c0c0c" stroke="#0c0c0c" stroke-width="0.12">max</text>
<text x="144.90" y="42.70" font-size="9.8" textLength="30.80" lengthAdjust="spacingAndGlyphs" fill="#0c0c0c" stroke="#0c0c0c" stroke-width="0.12">Holding</text>
<text x="178.90" y="42.70" font-size="9.8" textLength="18.70" lengthAdjust="spacingAndGlyphs" fill="#0c0c0c" stroke="#0c0c0c" stroke-width="0.12">Time</text>
<text x="201.90" y="42.70" font-size="9.8" textLength="19.40" lengthAdjust="spacingAndGlyphs" fill="#0c0c0c" stroke="#0c0c0c" stroke-width="0.12">2min</text>
<text x="39.10" y="58.60" font-size="10.6" textLength="48.50" lengthAdjust="spacingAndGlyphs" fill="#0c0c0c" stroke="#0c0c0c" stroke-width="0.12">λ =532 nm</text>
<text x="40.10" y="90.50" font-size="10.6" textLength="32.90" lengthAdjust="spacingAndGlyphs" fill="#0c0c0c" stroke="#0c0c0c" stroke-width="0.12">1000°C</text>
<text x="43.40" y="113.80" font-size="10.6" textLength="27.00" lengthAdjust="spacingAndGlyphs" fill="#0c0c0c" stroke="#0c0c0c" stroke-width="0.12">900°C</text>
<text x="42.90" y="136.60" font-size="10.6" textLength="27.60" lengthAdjust="spacingAndGlyphs" fill="#0c0c0c" stroke="#0c0c0c" stroke-width="0.12">800°C</text>
<text x="43.40" y="160.90" font-size="10.6" textLength="27.00" lengthAdjust="spacingAndGlyphs" fill="#0c0c0c" stroke="#0c0c0c" stroke-width="0.12">700°C</text>
<text x="43.00" y="183.70" font-size="10.6" textLength="29.50" lengthAdjust="spacingAndGlyphs" fill="#0c0c0c" stroke="#0c0c0c" stroke-width="0.12">Before</text>
<text x="134.40" y="88.60" font-size="9.6" textLength="3.00" lengthAdjust="spacingAndGlyphs" fill="#0c0c0c" stroke="#0c0c0c" stroke-width="0.12">I</text>
<text x="137.40" y="90.80" font-size="6.8" textLength="3.80" lengthAdjust="spacingAndGlyphs" fill="#0c0c0c" stroke="#0c0c0c" stroke-width="0.28">D</text>
<text x="140.60" y="88.60" font-size="9.6" textLength="6.40" lengthAdjust="spacingAndGlyphs" fill="#0c0c0c" stroke="#0c0c0c" stroke-width="0.12">/I</text>
<text x="147.20" y="90.80" font-size="6.8" textLength="4.50" lengthAdjust="spacingAndGlyphs" fill="#0c0c0c" stroke="#0c0c0c" stroke-width="0.28">G</text>
<text x="155.60" y="88.60" font-size="9.6" textLength="20.80" lengthAdjust="spacingAndGlyphs" fill="#0c0c0c" stroke="#0c0c0c" stroke-width="0.12">1.478</text>
<text x="210.00" y="87.60" font-size="9.6" textLength="3.00" lengthAdjust="spacingAndGlyphs" fill="#0c0c0c" stroke="#0c0c0c" stroke-width="0.12">I</text>
<text x="213.20" y="89.80" font-size="6.8" textLength="3.90" lengthAdjust="spacingAndGlyphs" fill="#0c0c0c" stroke="#0c0c0c" stroke-width="0.28">G</text>
<text x="217.00" y="88.40" font-size="5.5" textLength="1.20" lengthAdjust="spacingAndGlyphs" fill="#0c0c0c" stroke="#0c0c0c" stroke-width="0.12">’</text>
<text x="218.00" y="87.60" font-size="9.6" textLength="6.60" lengthAdjust="spacingAndGlyphs" fill="#0c0c0c" stroke="#0c0c0c" stroke-width="0.12">/I</text>
<text x="225.00" y="89.80" font-size="6.8" textLength="4.50" lengthAdjust="spacingAndGlyphs" fill="#0c0c0c" stroke="#0c0c0c" stroke-width="0.28">G</text>
<text x="233.00" y="87.60" font-size="9.6" textLength="20.50" lengthAdjust="spacingAndGlyphs" fill="#0c0c0c" stroke="#0c0c0c" stroke-width="0.12">0.485</text>
<text x="134.40" y="112.80" font-size="9.6" textLength="3.00" lengthAdjust="spacingAndGlyphs" fill="#0c0c0c" stroke="#0c0c0c" stroke-width="0.12">I</text>
<text x="137.40" y="115.00" font-size="6.8" textLength="3.80" lengthAdjust="spacingAndGlyphs" fill="#0c0c0c" stroke="#0c0c0c" stroke-width="0.28">D</text>
<text x="140.60" y="112.80" font-size="9.6" textLength="6.40" lengthAdjust="spacingAndGlyphs" fill="#0c0c0c" stroke="#0c0c0c" stroke-width="0.12">/I</text>
<text x="147.20" y="115.00" font-size="6.8" textLength="4.50" lengthAdjust="spacingAndGlyphs" fill="#0c0c0c" stroke="#0c0c0c" stroke-width="0.28">G</text>
<text x="155.60" y="112.80" font-size="9.6" textLength="20.80" lengthAdjust="spacingAndGlyphs" fill="#0c0c0c" stroke="#0c0c0c" stroke-width="0.12">1.272</text>
<text x="210.00" y="111.20" font-size="9.6" textLength="3.00" lengthAdjust="spacingAndGlyphs" fill="#0c0c0c" stroke="#0c0c0c" stroke-width="0.12">I</text>
<text x="213.20" y="113.40" font-size="6.8" textLength="3.90" lengthAdjust="spacingAndGlyphs" fill="#0c0c0c" stroke="#0c0c0c" stroke-width="0.28">G</text>
<text x="217.00" y="112.00" font-size="5.5" textLength="1.20" lengthAdjust="spacingAndGlyphs" fill="#0c0c0c" stroke="#0c0c0c" stroke-width="0.12">’</text>
<text x="218.00" y="111.20" font-size="9.6" textLength="6.60" lengthAdjust="spacingAndGlyphs" fill="#0c0c0c" stroke="#0c0c0c" stroke-width="0.12">/I</text>
<text x="225.00" y="113.40" font-size="6.8" textLength="4.50" lengthAdjust="spacingAndGlyphs" fill="#0c0c0c" stroke="#0c0c0c" stroke-width="0.28">G</text>
<text x="233.00" y="111.20" font-size="9.6" textLength="20.50" lengthAdjust="spacingAndGlyphs" fill="#0c0c0c" stroke="#0c0c0c" stroke-width="0.12">0.480</text>
<text x="134.40" y="135.80" font-size="9.6" textLength="3.00" lengthAdjust="spacingAndGlyphs" fill="#0c0c0c" stroke="#0c0c0c" stroke-width="0.12">I</text>
<text x="137.40" y="138.00" font-size="6.8" textLength="3.80" lengthAdjust="spacingAndGlyphs" fill="#0c0c0c" stroke="#0c0c0c" stroke-width="0.28">D</text>
<text x="140.60" y="135.80" font-size="9.6" textLength="6.40" lengthAdjust="spacingAndGlyphs" fill="#0c0c0c" stroke="#0c0c0c" stroke-width="0.12">/I</text>
<text x="147.20" y="138.00" font-size="6.8" textLength="4.50" lengthAdjust="spacingAndGlyphs" fill="#0c0c0c" stroke="#0c0c0c" stroke-width="0.28">G</text>
<text x="155.60" y="135.80" font-size="9.6" textLength="20.80" lengthAdjust="spacingAndGlyphs" fill="#0c0c0c" stroke="#0c0c0c" stroke-width="0.12">1.381</text>
<text x="210.00" y="132.20" font-size="9.6" textLength="3.00" lengthAdjust="spacingAndGlyphs" fill="#0c0c0c" stroke="#0c0c0c" stroke-width="0.12">I</text>
<text x="213.20" y="134.40" font-size="6.8" textLength="3.90" lengthAdjust="spacingAndGlyphs" fill="#0c0c0c" stroke="#0c0c0c" stroke-width="0.28">G</text>
<text x="217.00" y="133.00" font-size="5.5" textLength="1.20" lengthAdjust="spacingAndGlyphs" fill="#0c0c0c" stroke="#0c0c0c" stroke-width="0.12">’</text>
<text x="218.00" y="132.20" font-size="9.6" textLength="6.60" lengthAdjust="spacingAndGlyphs" fill="#0c0c0c" stroke="#0c0c0c" stroke-width="0.12">/I</text>
<text x="225.00" y="134.40" font-size="6.8" textLength="4.50" lengthAdjust="spacingAndGlyphs" fill="#0c0c0c" stroke="#0c0c0c" stroke-width="0.28">G</text>
<text x="233.00" y="132.20" font-size="9.6" textLength="20.50" lengthAdjust="spacingAndGlyphs" fill="#0c0c0c" stroke="#0c0c0c" stroke-width="0.12">0.346</text>
<text x="134.40" y="159.70" font-size="9.6" textLength="3.00" lengthAdjust="spacingAndGlyphs" fill="#0c0c0c" stroke="#0c0c0c" stroke-width="0.12">I</text>
<text x="137.40" y="161.90" font-size="6.8" textLength="3.80" lengthAdjust="spacingAndGlyphs" fill="#0c0c0c" stroke="#0c0c0c" stroke-width="0.28">D</text>
<text x="140.60" y="159.70" font-size="9.6" textLength="6.40" lengthAdjust="spacingAndGlyphs" fill="#0c0c0c" stroke="#0c0c0c" stroke-width="0.12">/I</text>
<text x="147.20" y="161.90" font-size="6.8" textLength="4.50" lengthAdjust="spacingAndGlyphs" fill="#0c0c0c" stroke="#0c0c0c" stroke-width="0.28">G</text>
<text x="155.60" y="159.70" font-size="9.6" textLength="20.80" lengthAdjust="spacingAndGlyphs" fill="#0c0c0c" stroke="#0c0c0c" stroke-width="0.12">1.145</text>
<text x="210.00" y="157.20" font-size="9.6" textLength="3.00" lengthAdjust="spacingAndGlyphs" fill="#0c0c0c" stroke="#0c0c0c" stroke-width="0.12">I</text>
<text x="213.20" y="159.40" font-size="6.8" textLength="3.90" lengthAdjust="spacingAndGlyphs" fill="#0c0c0c" stroke="#0c0c0c" stroke-width="0.28">G</text>
<text x="217.00" y="158.00" font-size="5.5" textLength="1.20" lengthAdjust="spacingAndGlyphs" fill="#0c0c0c" stroke="#0c0c0c" stroke-width="0.12">’</text>
<text x="218.00" y="157.20" font-size="9.6" textLength="6.60" lengthAdjust="spacingAndGlyphs" fill="#0c0c0c" stroke="#0c0c0c" stroke-width="0.12">/I</text>
<text x="225.00" y="159.40" font-size="6.8" textLength="4.50" lengthAdjust="spacingAndGlyphs" fill="#0c0c0c" stroke="#0c0c0c" stroke-width="0.28">G</text>
<text x="233.00" y="157.20" font-size="9.6" textLength="20.50" lengthAdjust="spacingAndGlyphs" fill="#0c0c0c" stroke="#0c0c0c" stroke-width="0.12">0.373</text>
<text x="134.40" y="185.00" font-size="9.6" textLength="3.00" lengthAdjust="spacingAndGlyphs" fill="#0c0c0c" stroke="#0c0c0c" stroke-width="0.12">I</text>
<text x="137.40" y="187.20" font-size="6.8" textLength="3.80" lengthAdjust="spacingAndGlyphs" fill="#0c0c0c" stroke="#0c0c0c" stroke-width="0.28">D</text>
<text x="140.60" y="185.00" font-size="9.6" textLength="6.40" lengthAdjust="spacingAndGlyphs" fill="#0c0c0c" stroke="#0c0c0c" stroke-width="0.12">/I</text>
<text x="147.20" y="187.20" font-size="6.8" textLength="4.50" lengthAdjust="spacingAndGlyphs" fill="#0c0c0c" stroke="#0c0c0c" stroke-width="0.28">G</text>
<text x="155.60" y="185.00" font-size="9.6" textLength="20.80" lengthAdjust="spacingAndGlyphs" fill="#0c0c0c" stroke="#0c0c0c" stroke-width="0.12">1.228</text>
<text x="210.00" y="181.40" font-size="9.6" textLength="3.00" lengthAdjust="spacingAndGlyphs" fill="#0c0c0c" stroke="#0c0c0c" stroke-width="0.12">I</text>
<text x="213.20" y="183.60" font-size="6.8" textLength="3.90" lengthAdjust="spacingAndGlyphs" fill="#0c0c0c" stroke="#0c0c0c" stroke-width="0.28">G</text>
<text x="217.00" y="182.20" font-size="5.5" textLength="1.20" lengthAdjust="spacingAndGlyphs" fill="#0c0c0c" stroke="#0c0c0c" stroke-width="0.12">’</text>
<text x="218.00" y="181.40" font-size="9.6" textLength="6.60" lengthAdjust="spacingAndGlyphs" fill="#0c0c0c" stroke="#0c0c0c" stroke-width="0.12">/I</text>
<text x="225.00" y="183.60" font-size="6.8" textLength="4.50" lengthAdjust="spacingAndGlyphs" fill="#0c0c0c" stroke="#0c0c0c" stroke-width="0.28">G</text>
<text x="233.00" y="181.40" font-size="9.6" textLength="20.50" lengthAdjust="spacingAndGlyphs" fill="#0c0c0c" stroke="#0c0c0c" stroke-width="0.12">0.130</text>
<text x="29.10" y="204.60" font-size="10.7" textLength="16.00" lengthAdjust="spacingAndGlyphs" fill="#0c0c0c" stroke="#0c0c0c" stroke-width="0.12">500</text>
<text x="99.63" y="204.60" font-size="10.7" textLength="22.00" lengthAdjust="spacingAndGlyphs" fill="#0c0c0c" stroke="#0c0c0c" stroke-width="0.12">1500</text>
<text x="173.16" y="204.60" font-size="10.7" textLength="22.00" lengthAdjust="spacingAndGlyphs" fill="#0c0c0c" stroke="#0c0c0c" stroke-width="0.12">2500</text>
<text x="246.69" y="204.60" font-size="10.7" textLength="22.00" lengthAdjust="spacingAndGlyphs" fill="#0c0c0c" stroke="#0c0c0c" stroke-width="0.12">3500</text>
<text x="114.20" y="229.70" font-size="11.0" textLength="88.40" lengthAdjust="spacingAndGlyphs" fill="#0c0c0c" stroke="#0c0c0c" stroke-width="0.12">Raman Shift (cm⁻¹)</text>
<g transform="translate(24.3 155.5) rotate(-90)">
<text x="0.00" y="0.00" font-size="11.0" textLength="69.30" lengthAdjust="spacingAndGlyphs" fill="#0c0c0c" stroke="#0c0c0c" stroke-width="0.12">Intensity (a.u.)</text>
</g>
<text x="69.80" y="68.80" font-size="11.2" textLength="34.80" lengthAdjust="spacingAndGlyphs" fill="#0c0c0c" stroke="#0c0c0c" stroke-width="0.12">D Band</text>
<text x="115.50" y="71.00" font-size="11.2" textLength="34.50" lengthAdjust="spacingAndGlyphs" fill="#0c0c0c" stroke="#0c0c0c" stroke-width="0.12">G Band</text>
<text x="181.50" y="71.20" font-size="11.2" textLength="36.40" lengthAdjust="spacingAndGlyphs" fill="#0c0c0c" stroke="#0c0c0c" stroke-width="0.12">G’ Band</text>
<rect x="311.6" y="46.5" width="220.6" height="141.5" fill="none" stroke="#3a3a3a" stroke-width="1"/>
<line x1="385.1" y1="188.0" x2="385.1" y2="184.8" stroke="#333" stroke-width="0.8"/>
<line x1="458.7" y1="188.0" x2="458.7" y2="184.8" stroke="#333" stroke-width="0.8"/>
<path d="M311.6 93.14 L312.1 93.07 L312.6 92.95 L313.1 93.07 L313.6 93.01 L314.1 92.99 L314.6 93.01 L315.1 93.10 L315.6 93.25 L316.1 93.18 L316.6 93.29 L317.1 93.35 L317.6 93.16 L318.1 93.01 L318.6 92.95 L319.1 93.12 L319.6 93.13 L320.1 93.24 L320.6 93.31 L321.1 93.25 L321.6 93.18 L322.1 93.01 L322.6 92.89 L323.1 93.06 L323.6 93.11 L324.1 93.16 L324.6 93.13 L325.1 93.14 L325.6 93.14 L326.1 93.21 L326.6 93.01 L327.1 93.01 L327.6 92.96 L328.1 93.08 L328.6 93.15 L329.1 93.00 L329.6 92.87 L330.1 92.84 L330.6 92.84 L331.1 92.97 L331.6 92.93 L332.1 93.00 L332.6 92.91 L333.1 92.91 L333.6 92.81 L334.1 92.89 L334.6 92.88 L335.1 92.98 L335.6 93.05 L336.1 92.96 L336.6 92.76 L337.1 92.91 L337.6 92.98 L338.1 92.88 L338.6 92.82 L339.1 92.91 L339.6 92.75 L340.1 92.65 L340.6 92.72 L341.1 92.74 L341.6 92.75 L342.1 92.78 L342.6 92.70 L343.1 92.62 L343.6 92.50 L344.1 92.43 L344.6 92.42 L345.1 92.42 L345.6 92.51 L346.1 92.50 L346.6 92.46 L347.1 92.38 L347.6 92.40 L348.1 92.33 L348.6 92.40 L349.1 92.38 L349.6 92.37 L350.1 92.25 L350.6 92.22 L351.1 92.25 L351.6 92.32 L352.1 92.22 L352.6 92.08 L353.1 92.11 L353.6 91.93 L354.1 91.88 L354.6 91.75 L355.1 91.82 L355.6 91.75 L356.1 91.73 L356.6 91.82 L357.1 91.81 L357.6 91.61 L358.1 91.59 L358.6 91.43 L359.1 91.57 L359.6 91.52 L360.1 91.57 L360.6 91.40 L361.1 91.45 L361.6 91.23 L362.1 91.30 L362.6 91.16 L363.1 90.94 L363.6 91.03 L364.1 90.99 L364.6 90.72 L365.1 90.61 L365.6 90.42 L366.1 90.09 L366.6 89.83 L367.1 89.63 L367.6 89.04 L368.1 88.44 L368.6 87.59 L369.1 86.46 L369.6 84.97 L370.1 83.25 L370.6 81.03 L371.1 78.65 L371.6 76.14 L372.1 73.61 L372.6 71.64 L373.1 70.49 L373.6 70.33 L374.1 71.69 L374.6 74.36 L375.1 77.54 L375.6 80.45 L376.1 83.00 L376.6 85.21 L377.1 86.67 L377.6 87.76 L378.1 88.55 L378.6 89.21 L379.1 89.51 L379.6 89.94 L380.1 90.19 L380.6 90.42 L381.1 90.58 L381.6 90.67 L382.1 90.66 L382.6 90.59 L383.1 90.62 L383.6 90.47 L384.1 90.36 L384.6 90.38 L385.1 90.26 L385.6 89.92 L386.1 89.63 L386.6 89.26 L387.1 88.57 L387.6 87.81 L388.1 86.56 L388.6 85.01 L389.1 83.18 L389.6 80.97 L390.1 78.83 L390.6 77.04 L391.1 76.39 L391.6 76.97 L392.1 78.14 L392.6 79.79 L393.1 81.56 L393.6 83.58 L394.1 85.50 L394.6 87.45 L395.1 88.95 L395.6 90.02 L396.1 91.09 L396.6 91.57 L397.1 91.89 L397.6 92.37 L398.1 92.52 L398.6 92.73 L399.1 92.77 L399.6 92.67 L400.1 92.72 L400.6 92.84 L401.1 92.69 L401.6 92.84 L402.1 92.80 L402.6 92.84 L403.1 92.80 L403.6 92.93 L404.1 92.92 L404.6 92.90 L405.1 92.79 L405.6 92.92 L406.1 92.84 L406.6 92.93 L407.1 92.80 L407.6 92.77 L408.1 92.90 L408.6 92.88 L409.1 92.97 L409.6 93.04 L410.1 92.99 L410.6 93.02 L411.1 92.99 L411.6 92.88 L412.1 93.06 L412.6 93.06 L413.1 93.17 L413.6 93.16 L414.1 93.16 L414.6 93.00 L415.1 93.07 L415.6 93.05 L416.1 93.00 L416.6 92.92 L417.1 92.90 L417.6 92.86 L418.1 93.01 L418.6 93.03 L419.1 92.95 L419.6 93.04 L420.1 93.18 L420.6 93.27 L421.1 93.07 L421.6 93.12 L422.1 93.15 L422.6 93.13 L423.1 93.08 L423.6 93.09 L424.1 93.05 L424.6 93.05 L425.1 92.99 L425.6 93.10 L426.1 93.22 L426.6 93.31 L427.1 93.19 L427.6 93.08 L428.1 93.02 L428.6 92.93 L429.1 93.06 L429.6 92.98 L430.1 93.05 L430.6 93.19 L431.1 93.22 L431.6 93.21 L432.1 93.25 L432.6 93.23 L433.1 93.28 L433.6 93.24 L434.1 93.11 L434.6 92.99 L435.1 93.18 L435.6 93.04 L436.1 93.08 L436.6 93.21 L437.1 93.27 L437.6 93.28 L438.1 93.07 L438.6 92.95 L439.1 93.03 L439.6 92.95 L440.1 92.94 L440.6 92.95 L441.1 93.11 L441.6 93.20 L442.1 93.25 L442.6 93.30 L443.1 93.32 L443.6 93.13 L444.1 93.27 L444.6 93.15 L445.1 93.19 L445.6 93.23 L446.1 93.09 L446.6 93.21 L447.1 93.19 L447.6 93.20 L448.1 93.10 L448.6 93.16 L449.1 93.02 L449.6 92.99 L450.1 93.07 L450.6 93.17 L451.1 93.12 L451.6 93.09 L452.1 92.92 L452.6 92.94 L453.1 92.87 L453.6 92.84 L454.1 92.85 L454.6 92.87 L455.1 92.82 L455.6 92.89 L456.1 92.74 L456.6 92.62 L457.1 92.74 L457.6 92.71 L458.1 92.83 L458.6 92.76 L459.1 92.69 L459.6 92.62 L460.1 92.41 L460.6 92.43 L461.1 92.34 L461.6 92.17 L462.1 92.05 L462.6 91.90 L463.1 91.85 L463.6 91.81 L464.1 91.77 L464.6 91.79 L465.1 91.50 L465.6 91.29 L466.1 91.06 L466.6 90.97 L467.1 90.80 L467.6 90.44 L468.1 90.17 L468.6 89.79 L469.1 89.30 L469.6 88.77 L470.1 87.96 L470.6 87.04 L471.1 86.00 L471.6 84.95 L472.1 84.21 L472.6 84.00 L473.1 84.57 L473.6 85.46 L474.1 86.56 L474.6 87.48 L475.1 88.52 L475.6 89.27 L476.1 89.62 L476.6 90.15 L477.1 90.50 L477.6 90.85 L478.1 91.13 L478.6 91.31 L479.1 91.46 L479.6 91.50 L480.1 91.54 L480.6 91.64 L481.1 91.75 L481.6 91.77 L482.1 91.96 L482.6 91.94 L483.1 91.15 L483.6 90.11 L484.1 91.22 L484.6 91.94 L485.1 91.90 L485.6 91.99 L486.1 91.89 L486.6 91.98 L487.1 91.90 L487.6 91.80 L488.1 91.74 L488.6 91.79 L489.1 91.92 L489.6 92.04 L490.1 91.88 L490.6 92.08 L491.1 92.10 L491.6 91.99 L492.1 92.07 L492.6 92.07 L493.1 92.32 L493.6 92.33 L494.1 92.29 L494.6 92.28 L495.1 92.39 L495.6 92.43 L496.1 92.58 L496.6 92.70 L497.1 92.83 L497.6 92.86 L498.1 92.88 L498.6 92.94 L499.1 92.99 L499.6 92.92 L500.1 92.91 L500.6 92.89 L501.1 93.09 L501.6 93.21 L502.1 93.08 L502.6 93.06 L503.1 93.27 L503.6 93.33 L504.1 93.15 L504.6 93.18 L505.1 93.34 L505.6 93.37 L506.1 93.28 L506.6 93.38 L507.1 93.38 L507.6 93.47 L508.1 93.49 L508.6 93.28 L509.1 93.29 L509.6 93.36 L510.1 93.44 L510.6 93.46 L511.1 93.48 L511.6 93.32 L512.1 93.30 L512.6 93.23 L513.1 93.40 L513.6 93.51 L514.1 93.39 L514.6 93.32 L515.1 93.25 L515.6 93.17 L516.1 93.11 L516.6 93.09 L517.1 93.33 L517.6 93.40 L518.1 93.30 L518.6 93.46 L519.1 93.27 L519.6 93.43 L520.1 93.26 L520.6 93.24 L521.1 93.15 L521.6 93.22 L522.1 93.33 L522.6 93.44 L523.1 93.44 L523.6 93.26 L524.1 93.29 L524.6 93.45 L525.1 93.45 L525.6 93.30 L526.1 93.46 L526.6 93.27 L527.1 93.44 L527.6 93.45 L528.1 93.34 L528.6 93.40 L529.1 93.45 L529.6 93.51 L530.1 93.57 L530.6 93.52 L531.1 93.56 L531.6 93.38 L532.1 93.26" fill="none" stroke="#0a0a0a" stroke-width="1.55" stroke-linejoin="round" stroke-linecap="round"/>
<path d="M311.6 116.49 L312.1 116.44 L312.6 116.50 L313.1 116.61 L313.6 116.52 L314.1 116.45 L314.6 116.45 L315.1 116.61 L315.6 116.51 L316.1 116.64 L316.6 116.68 L317.1 116.55 L317.6 116.59 L318.1 116.59 L318.6 116.58 L319.1 116.75 L319.6 116.57 L320.1 116.45 L320.6 116.66 L321.1 116.61 L321.6 116.52 L322.1 116.52 L322.6 116.52 L323.1 116.70 L323.6 116.57 L324.1 116.51 L324.6 116.58 L325.1 116.61 L325.6 116.74 L326.1 116.78 L326.6 116.66 L327.1 116.54 L327.6 116.67 L328.1 116.78 L328.6 116.56 L329.1 116.64 L329.6 116.73 L330.1 116.71 L330.6 116.57 L331.1 116.67 L331.6 116.70 L332.1 116.55 L332.6 116.61 L333.1 116.51 L333.6 116.40 L334.1 116.43 L334.6 116.44 L335.1 116.47 L335.6 116.55 L336.1 116.66 L336.6 116.75 L337.1 116.80 L337.6 116.84 L338.1 116.79 L338.6 116.62 L339.1 116.49 L339.6 116.55 L340.1 116.55 L340.6 116.59 L341.1 116.44 L341.6 116.38 L342.1 116.57 L342.6 116.57 L343.1 116.60 L343.6 116.43 L344.1 116.43 L344.6 116.57 L345.1 116.57 L345.6 116.67 L346.1 116.49 L346.6 116.46 L347.1 116.54 L347.6 116.47 L348.1 116.53 L348.6 116.49 L349.1 116.33 L349.6 116.22 L350.1 116.42 L350.6 116.26 L351.1 116.18 L351.6 116.17 L352.1 116.26 L352.6 116.33 L353.1 116.24 L353.6 116.17 L354.1 116.20 L354.6 116.03 L355.1 115.94 L355.6 115.93 L356.1 115.89 L356.6 115.65 L357.1 115.49 L357.6 115.36 L358.1 115.41 L358.6 115.37 L359.1 115.37 L359.6 115.24 L360.1 114.95 L360.6 114.87 L361.1 114.81 L361.6 114.50 L362.1 114.15 L362.6 113.97 L363.1 113.75 L363.6 113.50 L364.1 113.22 L364.6 112.97 L365.1 112.93 L365.6 112.52 L366.1 112.29 L366.6 111.84 L367.1 111.33 L367.6 110.91 L368.1 110.12 L368.6 109.13 L369.1 108.03 L369.6 106.72 L370.1 105.05 L370.6 103.22 L371.1 101.01 L371.6 98.79 L372.1 96.78 L372.6 95.12 L373.1 94.37 L373.6 94.63 L374.1 96.04 L374.6 98.29 L375.1 101.01 L375.6 103.52 L376.1 105.74 L376.6 107.49 L377.1 108.88 L377.6 109.88 L378.1 110.91 L378.6 111.47 L379.1 112.04 L379.6 112.39 L380.1 112.75 L380.6 113.00 L381.1 113.22 L381.6 113.45 L382.1 113.54 L382.6 113.49 L383.1 113.59 L383.6 113.57 L384.1 113.51 L384.6 113.13 L385.1 112.95 L385.6 112.75 L386.1 112.22 L386.6 111.62 L387.1 111.12 L387.6 110.27 L388.1 109.30 L388.6 108.27 L389.1 106.90 L389.6 105.36 L390.1 103.84 L390.6 102.55 L391.1 101.76 L391.6 101.44 L392.1 101.99 L392.6 102.93 L393.1 104.48 L393.6 106.43 L394.1 108.37 L394.6 110.20 L395.1 111.94 L395.6 113.14 L396.1 114.07 L396.6 114.73 L397.1 115.34 L397.6 115.68 L398.1 115.95 L398.6 115.98 L399.1 116.01 L399.6 116.14 L400.1 116.34 L400.6 116.31 L401.1 116.49 L401.6 116.49 L402.1 116.45 L402.6 116.54 L403.1 116.43 L403.6 116.49 L404.1 116.59 L404.6 116.57 L405.1 116.49 L405.6 116.38 L406.1 116.47 L406.6 116.40 L407.1 116.43 L407.6 116.49 L408.1 116.65 L408.6 116.66 L409.1 116.62 L409.6 116.70 L410.1 116.58 L410.6 116.54 L411.1 116.61 L411.6 116.61 L412.1 116.51 L412.6 116.52 L413.1 116.64 L413.6 116.54 L414.1 116.62 L414.6 116.47 L415.1 116.66 L415.6 116.69 L416.1 116.59 L416.6 116.74 L417.1 116.77 L417.6 116.56 L418.1 116.51 L418.6 116.55 L419.1 116.72 L419.6 116.57 L420.1 116.45 L420.6 116.47 L421.1 116.40 L421.6 116.47 L422.1 116.55 L422.6 116.56 L423.1 116.48 L423.6 116.40 L424.1 116.59 L424.6 116.59 L425.1 116.60 L425.6 116.60 L426.1 116.67 L426.6 116.77 L427.1 116.80 L427.6 116.79 L428.1 116.67 L428.6 116.55 L429.1 116.46 L429.6 116.64 L430.1 116.51 L430.6 116.58 L431.1 116.73 L431.6 116.63 L432.1 116.60 L432.6 116.59 L433.1 116.74 L433.6 116.75 L434.1 116.79 L434.6 116.58 L435.1 116.67 L435.6 116.64 L436.1 116.61 L436.6 116.71 L437.1 116.75 L437.6 116.82 L438.1 116.80 L438.6 116.85 L439.1 116.73 L439.6 116.70 L440.1 116.75 L440.6 116.68 L441.1 116.55 L441.6 116.61 L442.1 116.72 L442.6 116.79 L443.1 116.60 L443.6 116.57 L444.1 116.51 L444.6 116.51 L445.1 116.69 L445.6 116.62 L446.1 116.55 L446.6 116.50 L447.1 116.52 L447.6 116.59 L448.1 116.53 L448.6 116.45 L449.1 116.41 L449.6 116.39 L450.1 116.57 L450.6 116.44 L451.1 116.53 L451.6 116.39 L452.1 116.50 L452.6 116.39 L453.1 116.48 L453.6 116.41 L454.1 116.25 L454.6 116.15 L455.1 116.29 L455.6 116.27 L456.1 116.23 L456.6 116.14 L457.1 116.18 L457.6 116.11 L458.1 115.92 L458.6 115.95 L459.1 115.86 L459.6 115.93 L460.1 115.86 L460.6 115.85 L461.1 115.62 L461.6 115.63 L462.1 115.56 L462.6 115.56 L463.1 115.53 L463.6 115.37 L464.1 115.25 L464.6 115.18 L465.1 114.95 L465.6 114.84 L466.1 114.79 L466.6 114.64 L467.1 114.47 L467.6 114.38 L468.1 114.26 L468.6 113.87 L469.1 113.46 L469.6 113.25 L470.1 112.82 L470.6 112.65 L471.1 112.25 L471.6 111.94 L472.1 111.83 L472.6 111.87 L473.1 111.84 L473.6 112.11 L474.1 112.38 L474.6 112.77 L475.1 113.03 L475.6 113.50 L476.1 113.70 L476.6 113.90 L477.1 114.23 L477.6 114.44 L478.1 114.47 L478.6 114.58 L479.1 114.72 L479.6 114.70 L480.1 114.70 L480.6 114.94 L481.1 114.88 L481.6 115.03 L482.1 115.13 L482.6 115.15 L483.1 114.34 L483.6 113.32 L484.1 114.51 L484.6 115.08 L485.1 115.21 L485.6 115.20 L486.1 115.09 L486.6 114.99 L487.1 114.91 L487.6 115.08 L488.1 115.18 L488.6 115.10 L489.1 115.01 L489.6 114.95 L490.1 115.03 L490.6 115.07 L491.1 115.04 L491.6 115.13 L492.1 115.37 L492.6 115.31 L493.1 115.42 L493.6 115.55 L494.1 115.56 L494.6 115.57 L495.1 115.62 L495.6 115.71 L496.1 116.04 L496.6 116.23 L497.1 116.31 L497.6 116.45 L498.1 116.37 L498.6 116.34 L499.1 116.52 L499.6 116.56 L500.1 116.69 L500.6 116.61 L501.1 116.59 L501.6 116.68 L502.1 116.79 L502.6 116.64 L503.1 116.59 L503.6 116.49 L504.1 116.61 L504.6 116.78 L505.1 116.77 L505.6 116.64 L506.1 116.74 L506.6 116.78 L507.1 116.64 L507.6 116.81 L508.1 116.82 L508.6 116.78 L509.1 116.72 L509.6 116.63 L510.1 116.67 L510.6 116.66 L511.1 116.62 L511.6 116.72 L512.1 116.78 L512.6 116.90 L513.1 116.98 L513.6 116.87 L514.1 116.88 L514.6 116.79 L515.1 116.76 L515.6 116.78 L516.1 116.91 L516.6 116.71 L517.1 116.72 L517.6 116.69 L518.1 116.82 L518.6 116.93 L519.1 116.85 L519.6 116.69 L520.1 116.75 L520.6 116.79 L521.1 116.83 L521.6 116.89 L522.1 116.82 L522.6 116.82 L523.1 116.88 L523.6 116.69 L524.1 116.65 L524.6 116.76 L525.1 116.91 L525.6 116.98 L526.1 116.82 L526.6 116.94 L527.1 116.80 L527.6 116.78 L528.1 116.67 L528.6 116.75 L529.1 116.73 L529.6 116.80 L530.1 116.93 L530.6 116.75 L531.1 116.81 L531.6 116.82 L532.1 116.73" fill="none" stroke="#0a0a0a" stroke-width="1.55" stroke-linejoin="round" stroke-linecap="round"/>
<path d="M311.6 140.32 L312.1 140.28 L312.6 140.30 L313.1 140.56 L313.6 140.53 L314.1 140.61 L314.6 140.38 L315.1 140.44 L315.6 140.61 L316.1 140.56 L316.6 140.72 L317.1 140.78 L317.6 140.59 L318.1 140.32 L318.6 140.50 L319.1 140.33 L319.6 140.18 L320.1 140.41 L320.6 140.58 L321.1 140.67 L321.6 140.77 L322.1 140.50 L322.6 140.30 L323.1 140.20 L323.6 140.52 L324.1 140.32 L324.6 140.23 L325.1 140.11 L325.6 140.06 L326.1 140.03 L326.6 140.14 L327.1 140.12 L327.6 140.17 L328.1 140.47 L328.6 140.30 L329.1 140.48 L329.6 140.55 L330.1 140.51 L330.6 140.49 L331.1 140.56 L331.6 140.51 L332.1 140.33 L332.6 140.27 L333.1 140.20 L333.6 140.23 L334.1 140.49 L334.6 140.39 L335.1 140.18 L335.6 140.23 L336.1 140.40 L336.6 140.34 L337.1 140.41 L337.6 140.17 L338.1 140.03 L338.6 140.21 L339.1 140.03 L339.6 140.04 L340.1 140.07 L340.6 140.00 L341.1 139.89 L341.6 139.81 L342.1 140.16 L342.6 140.23 L343.1 140.38 L343.6 140.25 L344.1 140.37 L344.6 140.38 L345.1 140.28 L345.6 140.16 L346.1 140.08 L346.6 139.90 L347.1 139.85 L347.6 139.95 L348.1 139.77 L348.6 139.93 L349.1 139.85 L349.6 139.83 L350.1 139.89 L350.6 139.82 L351.1 139.54 L351.6 139.40 L352.1 139.19 L352.6 139.06 L353.1 139.35 L353.6 139.32 L354.1 139.43 L354.6 139.37 L355.1 139.09 L355.6 139.18 L356.1 139.15 L356.6 138.89 L357.1 138.53 L357.6 138.37 L358.1 138.16 L358.6 138.06 L359.1 137.82 L359.6 137.87 L360.1 137.94 L360.6 137.55 L361.1 137.48 L361.6 137.24 L362.1 136.95 L362.6 136.83 L363.1 136.37 L363.6 136.14 L364.1 135.46 L364.6 135.26 L365.1 134.54 L365.6 133.76 L366.1 133.36 L366.6 132.67 L367.1 131.82 L367.6 130.89 L368.1 129.64 L368.6 128.22 L369.1 126.86 L369.6 125.68 L370.1 124.32 L370.6 122.54 L371.1 121.01 L371.6 119.66 L372.1 118.77 L372.6 117.78 L373.1 117.73 L373.6 118.10 L374.1 119.49 L374.6 121.19 L375.1 123.12 L375.6 125.36 L376.1 127.12 L376.6 128.83 L377.1 130.17 L377.6 131.21 L378.1 131.78 L378.6 132.55 L379.1 133.35 L379.6 133.73 L380.1 133.87 L380.6 134.11 L381.1 134.65 L381.6 135.00 L382.1 134.91 L382.6 134.90 L383.1 135.05 L383.6 135.00 L384.1 134.77 L384.6 134.89 L385.1 134.66 L385.6 134.25 L386.1 133.67 L386.6 133.29 L387.1 132.87 L387.6 132.01 L388.1 131.07 L388.6 130.34 L389.1 129.50 L389.6 128.26 L390.1 127.09 L390.6 126.09 L391.1 125.20 L391.6 124.48 L392.1 124.33 L392.6 124.93 L393.1 126.40 L393.6 128.34 L394.1 130.58 L394.6 132.61 L395.1 134.65 L395.6 136.02 L396.1 137.36 L396.6 138.23 L397.1 138.60 L397.6 138.83 L398.1 139.19 L398.6 139.38 L399.1 139.55 L399.6 139.50 L400.1 139.67 L400.6 139.89 L401.1 139.90 L401.6 139.84 L402.1 140.12 L402.6 140.01 L403.1 140.28 L403.6 140.30 L404.1 140.03 L404.6 140.09 L405.1 140.00 L405.6 140.23 L406.1 140.21 L406.6 140.07 L407.1 140.37 L407.6 140.47 L408.1 140.46 L408.6 140.44 L409.1 140.22 L409.6 140.49 L410.1 140.35 L410.6 140.38 L411.1 140.38 L411.6 140.38 L412.1 140.19 L412.6 140.46 L413.1 140.44 L413.6 140.39 L414.1 140.57 L414.6 140.67 L415.1 140.66 L415.6 140.75 L416.1 140.55 L416.6 140.34 L417.1 140.33 L417.6 140.44 L418.1 140.58 L418.6 140.64 L419.1 140.62 L419.6 140.61 L420.1 140.63 L420.6 140.60 L421.1 140.34 L421.6 140.43 L422.1 140.37 L422.6 140.24 L423.1 140.41 L423.6 140.60 L424.1 140.47 L424.6 140.56 L425.1 140.59 L425.6 140.64 L426.1 140.74 L426.6 140.73 L427.1 140.45 L427.6 140.53 L428.1 140.46 L428.6 140.45 L429.1 140.56 L429.6 140.40 L430.1 140.51 L430.6 140.71 L431.1 140.44 L431.6 140.63 L432.1 140.67 L432.6 140.56 L433.1 140.66 L433.6 140.41 L434.1 140.31 L434.6 140.62 L435.1 140.62 L435.6 140.43 L436.1 140.30 L436.6 140.37 L437.1 140.44 L437.6 140.68 L438.1 140.45 L438.6 140.52 L439.1 140.47 L439.6 140.49 L440.1 140.66 L440.6 140.40 L441.1 140.55 L441.6 140.59 L442.1 140.40 L442.6 140.23 L443.1 140.40 L443.6 140.53 L444.1 140.37 L444.6 140.18 L445.1 140.25 L445.6 140.33 L446.1 140.22 L446.6 140.18 L447.1 140.00 L447.6 139.91 L448.1 139.88 L448.6 140.08 L449.1 139.89 L449.6 139.81 L450.1 139.86 L450.6 139.76 L451.1 139.69 L451.6 139.85 L452.1 139.70 L452.6 139.73 L453.1 139.52 L453.6 139.57 L454.1 139.65 L454.6 139.56 L455.1 139.37 L455.6 139.17 L456.1 139.14 L456.6 139.16 L457.1 139.00 L457.6 139.03 L458.1 139.05 L458.6 138.84 L459.1 138.96 L459.6 139.12 L460.1 139.07 L460.6 138.91 L461.1 138.95 L461.6 139.00 L462.1 139.00 L462.6 138.97 L463.1 138.85 L463.6 138.84 L464.1 138.72 L464.6 138.45 L465.1 138.19 L465.6 138.17 L466.1 138.23 L466.6 138.05 L467.1 137.96 L467.6 137.76 L468.1 137.61 L468.6 137.58 L469.1 137.78 L469.6 137.51 L470.1 137.35 L470.6 137.33 L471.1 137.52 L471.6 137.27 L472.1 137.06 L472.6 136.98 L473.1 137.11 L473.6 137.10 L474.1 137.45 L474.6 137.43 L475.1 137.52 L475.6 137.57 L476.1 137.71 L476.6 137.74 L477.1 137.82 L477.6 137.89 L478.1 137.98 L478.6 138.21 L479.1 138.25 L479.6 138.21 L480.1 138.12 L480.6 138.44 L481.1 138.62 L481.6 138.77 L482.1 138.75 L482.6 138.62 L483.1 137.74 L483.6 136.48 L484.1 137.65 L484.6 138.41 L485.1 138.63 L485.6 138.43 L486.1 138.53 L486.6 138.59 L487.1 138.59 L487.6 138.57 L488.1 138.32 L488.6 138.22 L489.1 138.34 L489.6 138.45 L490.1 138.68 L490.6 138.74 L491.1 138.55 L491.6 138.44 L492.1 138.68 L492.6 138.51 L493.1 138.84 L493.6 138.70 L494.1 138.88 L494.6 139.12 L495.1 138.97 L495.6 138.93 L496.1 139.18 L496.6 139.40 L497.1 139.25 L497.6 139.41 L498.1 139.67 L498.6 139.84 L499.1 139.80 L499.6 139.65 L500.1 139.85 L500.6 139.96 L501.1 139.99 L501.6 140.11 L502.1 140.18 L502.6 140.20 L503.1 140.25 L503.6 140.30 L504.1 140.42 L504.6 140.51 L505.1 140.24 L505.6 140.42 L506.1 140.29 L506.6 140.30 L507.1 140.23 L507.6 140.23 L508.1 140.27 L508.6 140.31 L509.1 140.19 L509.6 140.21 L510.1 140.29 L510.6 140.30 L511.1 140.37 L511.6 140.21 L512.1 140.33 L512.6 140.55 L513.1 140.59 L513.6 140.54 L514.1 140.62 L514.6 140.48 L515.1 140.31 L515.6 140.41 L516.1 140.30 L516.6 140.26 L517.1 140.44 L517.6 140.43 L518.1 140.28 L518.6 140.22 L519.1 140.41 L519.6 140.47 L520.1 140.62 L520.6 140.63 L521.1 140.44 L521.6 140.51 L522.1 140.63 L522.6 140.69 L523.1 140.74 L523.6 140.44 L524.1 140.32 L524.6 140.22 L525.1 140.44 L525.6 140.51 L526.1 140.49 L526.6 140.32 L527.1 140.32 L527.6 140.44 L528.1 140.22 L528.6 140.48 L529.1 140.53 L529.6 140.65 L530.1 140.74 L530.6 140.60 L531.1 140.43 L531.6 140.37 L532.1 140.38" fill="none" stroke="#0a0a0a" stroke-width="1.55" stroke-linejoin="round" stroke-linecap="round"/>
<path d="M311.6 164.33 L312.1 164.38 L312.6 164.48 L313.1 164.30 L313.6 164.36 L314.1 164.50 L314.6 164.58 L315.1 164.31 L315.6 164.37 L316.1 164.38 L316.6 164.33 L317.1 164.51 L317.6 164.42 L318.1 164.33 L318.6 164.49 L319.1 164.45 L319.6 164.28 L320.1 164.19 L320.6 164.22 L321.1 164.04 L321.6 164.18 L322.1 164.31 L322.6 164.25 L323.1 164.39 L323.6 164.51 L324.1 164.41 L324.6 164.40 L325.1 164.16 L325.6 163.99 L326.1 164.30 L326.6 164.16 L327.1 164.06 L327.6 164.29 L328.1 164.35 L328.6 164.11 L329.1 164.06 L329.6 164.00 L330.1 163.97 L330.6 163.84 L331.1 163.99 L331.6 163.97 L332.1 163.99 L332.6 163.91 L333.1 163.83 L333.6 163.75 L334.1 164.06 L334.6 164.17 L335.1 164.14 L335.6 163.93 L336.1 163.82 L336.6 163.74 L337.1 163.77 L337.6 163.67 L338.1 163.69 L338.6 163.67 L339.1 163.64 L339.6 163.81 L340.1 163.81 L340.6 163.80 L341.1 163.73 L341.6 163.76 L342.1 163.87 L342.6 163.70 L343.1 163.49 L343.6 163.53 L344.1 163.50 L344.6 163.63 L345.1 163.39 L345.6 163.56 L346.1 163.26 L346.6 163.30 L347.1 163.26 L347.6 163.15 L348.1 163.30 L348.6 163.28 L349.1 163.00 L349.6 162.96 L350.1 162.95 L350.6 162.66 L351.1 162.48 L351.6 162.57 L352.1 162.63 L352.6 162.51 L353.1 162.37 L353.6 162.29 L354.1 162.09 L354.6 162.19 L355.1 162.23 L355.6 161.99 L356.1 161.60 L356.6 161.49 L357.1 161.54 L357.6 161.30 L358.1 161.00 L358.6 160.79 L359.1 160.83 L359.6 160.73 L360.1 160.44 L360.6 160.33 L361.1 160.23 L361.6 160.14 L362.1 159.91 L362.6 159.48 L363.1 159.24 L363.6 158.99 L364.1 158.62 L364.6 158.14 L365.1 157.54 L365.6 156.89 L366.1 156.34 L366.6 155.56 L367.1 154.75 L367.6 153.62 L368.1 152.41 L368.6 151.25 L369.1 150.14 L369.6 148.88 L370.1 147.37 L370.6 145.89 L371.1 144.81 L371.6 143.35 L372.1 142.56 L372.6 141.90 L373.1 141.51 L373.6 141.86 L374.1 142.83 L374.6 144.13 L375.1 146.24 L375.6 148.05 L376.1 149.97 L376.6 151.56 L377.1 152.62 L377.6 153.53 L378.1 154.33 L378.6 155.35 L379.1 156.12 L379.6 156.46 L380.1 156.73 L380.6 157.08 L381.1 157.54 L381.6 157.81 L382.1 158.04 L382.6 158.21 L383.1 158.18 L383.6 158.16 L384.1 157.71 L384.6 157.36 L385.1 157.40 L385.6 157.14 L386.1 156.65 L386.6 156.04 L387.1 155.48 L387.6 154.80 L388.1 154.07 L388.6 153.17 L389.1 152.04 L389.6 150.82 L390.1 149.67 L390.6 148.54 L391.1 147.58 L391.6 147.05 L392.1 146.74 L392.6 147.38 L393.1 148.79 L393.6 150.81 L394.1 153.19 L394.6 155.32 L395.1 157.17 L395.6 158.78 L396.1 160.16 L396.6 161.17 L397.1 161.83 L397.6 162.31 L398.1 162.86 L398.6 162.86 L399.1 163.09 L399.6 163.22 L400.1 163.28 L400.6 163.53 L401.1 163.48 L401.6 163.40 L402.1 163.42 L402.6 163.81 L403.1 163.77 L403.6 163.66 L404.1 163.99 L404.6 164.04 L405.1 164.21 L405.6 164.05 L406.1 164.18 L406.6 163.93 L407.1 163.88 L407.6 164.10 L408.1 164.11 L408.6 164.24 L409.1 164.15 L409.6 164.31 L410.1 164.06 L410.6 164.17 L411.1 164.04 L411.6 163.98 L412.1 164.25 L412.6 164.20 L413.1 164.35 L413.6 164.20 L414.1 164.31 L414.6 164.46 L415.1 164.42 L415.6 164.23 L416.1 164.32 L416.6 164.49 L417.1 164.52 L417.6 164.38 L418.1 164.29 L418.6 164.11 L419.1 164.31 L419.6 164.15 L420.1 164.09 L420.6 163.98 L421.1 163.98 L421.6 164.07 L422.1 164.17 L422.6 164.09 L423.1 164.16 L423.6 164.34 L424.1 164.15 L424.6 164.07 L425.1 164.19 L425.6 164.42 L426.1 164.56 L426.6 164.48 L427.1 164.23 L427.6 164.43 L428.1 164.60 L428.6 164.65 L429.1 164.51 L429.6 164.38 L430.1 164.39 L430.6 164.48 L431.1 164.62 L431.6 164.48 L432.1 164.41 L432.6 164.29 L433.1 164.32 L433.6 164.33 L434.1 164.23 L434.6 164.24 L435.1 164.45 L435.6 164.26 L436.1 164.17 L436.6 164.13 L437.1 164.35 L437.6 164.23 L438.1 164.38 L438.6 164.51 L439.1 164.55 L439.6 164.53 L440.1 164.26 L440.6 164.21 L441.1 164.34 L441.6 164.16 L442.1 164.20 L442.6 164.33 L443.1 164.42 L443.6 164.21 L444.1 163.99 L444.6 163.82 L445.1 163.84 L445.6 163.93 L446.1 163.86 L446.6 164.04 L447.1 164.05 L447.6 164.03 L448.1 164.10 L448.6 163.90 L449.1 163.92 L449.6 163.78 L450.1 163.66 L450.6 163.50 L451.1 163.69 L451.6 163.82 L452.1 163.50 L452.6 163.60 L453.1 163.35 L453.6 163.34 L454.1 163.28 L454.6 163.47 L455.1 163.35 L455.6 163.30 L456.1 163.18 L456.6 163.05 L457.1 162.95 L457.6 162.79 L458.1 162.66 L458.6 162.80 L459.1 162.93 L459.6 162.96 L460.1 162.77 L460.6 162.96 L461.1 162.64 L461.6 162.60 L462.1 162.52 L462.6 162.38 L463.1 162.62 L463.6 162.63 L464.1 162.36 L464.6 162.21 L465.1 162.39 L465.6 162.27 L466.1 162.16 L466.6 162.07 L467.1 162.01 L467.6 162.07 L468.1 161.96 L468.6 161.99 L469.1 161.74 L469.6 161.77 L470.1 161.77 L470.6 161.61 L471.1 161.72 L471.6 161.79 L472.1 161.70 L472.6 161.58 L473.1 161.45 L473.6 161.63 L474.1 161.64 L474.6 161.64 L475.1 161.84 L475.6 161.84 L476.1 162.05 L476.6 162.25 L477.1 162.06 L477.6 162.24 L478.1 162.17 L478.6 162.21 L479.1 162.41 L479.6 162.64 L480.1 162.50 L480.6 162.62 L481.1 162.52 L481.6 162.72 L482.1 162.51 L482.6 162.61 L483.1 161.66 L483.6 160.62 L484.1 161.90 L484.6 162.81 L485.1 162.83 L485.6 162.75 L486.1 162.65 L486.6 162.69 L487.1 162.73 L487.6 162.74 L488.1 162.80 L488.6 162.85 L489.1 162.98 L489.6 162.92 L490.1 163.02 L490.6 163.03 L491.1 162.91 L491.6 163.04 L492.1 162.95 L492.6 163.13 L493.1 163.27 L493.6 163.39 L494.1 163.49 L494.6 163.48 L495.1 163.42 L495.6 163.33 L496.1 163.46 L496.6 163.67 L497.1 163.59 L497.6 163.50 L498.1 163.72 L498.6 163.93 L499.1 163.76 L499.6 163.66 L500.1 163.62 L500.6 163.80 L501.1 164.04 L501.6 163.93 L502.1 164.12 L502.6 163.91 L503.1 163.88 L503.6 164.01 L504.1 164.19 L504.6 164.18 L505.1 164.26 L505.6 164.17 L506.1 164.13 L506.6 164.17 L507.1 163.97 L507.6 163.95 L508.1 164.01 L508.6 164.17 L509.1 164.06 L509.6 164.03 L510.1 164.33 L510.6 164.35 L511.1 164.26 L511.6 164.37 L512.1 164.40 L512.6 164.46 L513.1 164.38 L513.6 164.36 L514.1 164.13 L514.6 164.14 L515.1 164.13 L515.6 164.07 L516.1 164.08 L516.6 164.31 L517.1 164.15 L517.6 164.02 L518.1 164.04 L518.6 163.98 L519.1 163.88 L519.6 164.21 L520.1 164.24 L520.6 164.02 L521.1 164.12 L521.6 164.03 L522.1 164.11 L522.6 164.35 L523.1 164.50 L523.6 164.33 L524.1 164.40 L524.6 164.31 L525.1 164.09 L525.6 164.10 L526.1 164.29 L526.6 164.38 L527.1 164.40 L527.6 164.53 L528.1 164.34 L528.6 164.37 L529.1 164.44 L529.6 164.52 L530.1 164.55 L530.6 164.56 L531.1 164.34 L531.6 164.23 L532.1 164.28" fill="none" stroke="#0a0a0a" stroke-width="1.55" stroke-linejoin="round" stroke-linecap="round"/>
<path d="M311.6 187.75 L312.1 187.75 L312.6 187.75 L313.1 187.75 L313.6 187.75 L314.1 187.75 L314.6 187.75 L315.1 187.75 L315.6 187.75 L316.1 187.74 L316.6 187.75 L317.1 187.73 L317.6 187.73 L318.1 187.75 L318.6 187.75 L319.1 187.75 L319.6 187.75 L320.1 187.71 L320.6 187.71 L321.1 187.75 L321.6 187.75 L322.1 187.75 L322.6 187.75 L323.1 187.75 L323.6 187.75 L324.1 187.75 L324.6 187.75 L325.1 187.74 L325.6 187.75 L326.1 187.75 L326.6 187.75 L327.1 187.75 L327.6 187.75 L328.1 187.75 L328.6 187.75 L329.1 187.75 L329.6 187.75 L330.1 187.75 L330.6 187.75 L331.1 187.74 L331.6 187.73 L332.1 187.75 L332.6 187.75 L333.1 187.75 L333.6 187.75 L334.1 187.75 L334.6 187.75 L335.1 187.75 L335.6 187.75 L336.1 187.75 L336.6 187.75 L337.1 187.75 L337.6 187.70 L338.1 187.68 L338.6 187.65 L339.1 187.64 L339.6 187.58 L340.1 187.60 L340.6 187.55 L341.1 187.62 L341.6 187.62 L342.1 187.57 L342.6 187.69 L343.1 187.60 L343.6 187.59 L344.1 187.65 L344.6 187.64 L345.1 187.66 L345.6 187.57 L346.1 187.56 L346.6 187.35 L347.1 187.36 L347.6 187.25 L348.1 187.15 L348.6 187.17 L349.1 187.13 L349.6 186.99 L350.1 186.87 L350.6 186.74 L351.1 186.77 L351.6 186.66 L352.1 186.47 L352.6 186.36 L353.1 186.14 L353.6 186.00 L354.1 185.90 L354.6 185.88 L355.1 185.77 L355.6 185.56 L356.1 185.41 L356.6 185.12 L357.1 184.98 L357.6 184.87 L358.1 184.53 L358.6 184.42 L359.1 184.27 L359.6 183.95 L360.1 183.77 L360.6 183.60 L361.1 183.21 L361.6 182.96 L362.1 182.73 L362.6 182.53 L363.1 182.18 L363.6 181.96 L364.1 181.67 L364.6 181.38 L365.1 181.00 L365.6 180.60 L366.1 180.05 L366.6 179.44 L367.1 178.72 L367.6 177.90 L368.1 176.99 L368.6 175.98 L369.1 174.82 L369.6 173.52 L370.1 172.24 L370.6 171.03 L371.1 169.63 L371.6 168.49 L372.1 167.38 L372.6 166.35 L373.1 165.53 L373.6 165.18 L374.1 165.10 L374.6 165.24 L375.1 166.01 L375.6 167.17 L376.1 168.54 L376.6 169.93 L377.1 171.43 L377.6 172.99 L378.1 174.38 L378.6 175.62 L379.1 176.60 L379.6 177.59 L380.1 178.36 L380.6 178.92 L381.1 179.46 L381.6 179.77 L382.1 180.09 L382.6 180.34 L383.1 180.64 L383.6 180.85 L384.1 180.85 L384.6 180.96 L385.1 180.90 L385.6 180.95 L386.1 180.91 L386.6 180.74 L387.1 180.34 L387.6 179.97 L388.1 179.47 L388.6 178.92 L389.1 178.07 L389.6 177.07 L390.1 175.90 L390.6 174.72 L391.1 173.29 L391.6 171.93 L392.1 170.80 L392.6 170.09 L393.1 170.18 L393.6 170.97 L394.1 172.54 L394.6 174.51 L395.1 176.84 L395.6 179.09 L396.1 181.24 L396.6 183.17 L397.1 184.66 L397.6 185.69 L398.1 186.26 L398.6 186.87 L399.1 187.14 L399.6 187.35 L400.1 187.42 L400.6 187.55 L401.1 187.53 L401.6 187.49 L402.1 187.55 L402.6 187.53 L403.1 187.54 L403.6 187.54 L404.1 187.67 L404.6 187.74 L405.1 187.68 L405.6 187.75 L406.1 187.65 L406.6 187.75 L407.1 187.73 L407.6 187.75 L408.1 187.74 L408.6 187.75 L409.1 187.75 L409.6 187.74 L410.1 187.75 L410.6 187.75 L411.1 187.75 L411.6 187.75 L412.1 187.75 L412.6 187.75 L413.1 187.75 L413.6 187.75 L414.1 187.75 L414.6 187.71 L415.1 187.75 L415.6 187.75 L416.1 187.75 L416.6 187.75 L417.1 187.75 L417.6 187.75 L418.1 187.75 L418.6 187.75 L419.1 187.75 L419.6 187.75 L420.1 187.75 L420.6 187.75 L421.1 187.75 L421.6 187.75 L422.1 187.75 L422.6 187.75 L423.1 187.75 L423.6 187.75 L424.1 187.71 L424.6 187.75 L425.1 187.75 L425.6 187.75 L426.1 187.71 L426.6 187.69 L427.1 187.75 L427.6 187.75 L428.1 187.75 L428.6 187.75 L429.1 187.75 L429.6 187.75 L430.1 187.75 L430.6 187.75 L431.1 187.75 L431.6 187.75 L432.1 187.75 L432.6 187.72 L433.1 187.75 L433.6 187.74 L434.1 187.75 L434.6 187.75 L435.1 187.75 L435.6 187.75 L436.1 187.75 L436.6 187.75 L437.1 187.75 L437.6 187.75 L438.1 187.75 L438.6 187.75 L439.1 187.75 L439.6 187.75 L440.1 187.75 L440.6 187.75 L441.1 187.75 L441.6 187.75 L442.1 187.75 L442.6 187.75 L443.1 187.75 L443.6 187.75 L444.1 187.75 L444.6 187.75 L445.1 187.75 L445.6 187.74 L446.1 187.75 L446.6 187.75 L447.1 187.75 L447.6 187.73 L448.1 187.75 L448.6 187.75 L449.1 187.75 L449.6 187.73 L450.1 187.75 L450.6 187.75 L451.1 187.75 L451.6 187.75 L452.1 187.72 L452.6 187.75 L453.1 187.75 L453.6 187.75 L454.1 187.75 L454.6 187.75 L455.1 187.75 L455.6 187.70 L456.1 187.75 L456.6 187.75 L457.1 187.74 L457.6 187.72 L458.1 187.71 L458.6 187.58 L459.1 187.43 L459.6 187.41 L460.1 187.31 L460.6 187.35 L461.1 187.14 L461.6 187.05 L462.1 186.87 L462.6 186.75 L463.1 186.59 L463.6 186.46 L464.1 186.46 L464.6 186.43 L465.1 186.37 L465.6 186.39 L466.1 186.38 L466.6 186.26 L467.1 186.26 L467.6 186.22 L468.1 186.20 L468.6 186.08 L469.1 186.16 L469.6 186.14 L470.1 186.01 L470.6 185.90 L471.1 185.92 L471.6 186.00 L472.1 185.97 L472.6 185.96 L473.1 186.04 L473.6 185.98 L474.1 185.89 L474.6 185.93 L475.1 185.93 L475.6 186.00 L476.1 185.92 L476.6 186.04 L477.1 186.14 L477.6 186.14 L478.1 186.09 L478.6 185.99 L479.1 185.90 L479.6 185.99 L480.1 186.10 L480.6 186.02 L481.1 186.09 L481.6 186.16 L482.1 186.17 L482.6 186.10 L483.1 185.47 L483.6 184.43 L484.1 185.38 L484.6 185.96 L485.1 186.05 L485.6 185.98 L486.1 186.08 L486.6 186.11 L487.1 186.01 L487.6 185.93 L488.1 186.02 L488.6 186.00 L489.1 186.05 L489.6 186.14 L490.1 186.07 L490.6 186.00 L491.1 186.08 L491.6 186.16 L492.1 186.18 L492.6 186.10 L493.1 186.18 L493.6 186.29 L494.1 186.44 L494.6 186.43 L495.1 186.48 L495.6 186.56 L496.1 186.74 L496.6 186.79 L497.1 186.98 L497.6 187.09 L498.1 187.21 L498.6 187.21 L499.1 187.42 L499.6 187.47 L500.1 187.53 L500.6 187.57 L501.1 187.73 L501.6 187.75 L502.1 187.75 L502.6 187.75 L503.1 187.75 L503.6 187.75 L504.1 187.75 L504.6 187.75 L505.1 187.75 L505.6 187.75 L506.1 187.75 L506.6 187.72 L507.1 187.75 L507.6 187.75 L508.1 187.75 L508.6 187.75 L509.1 187.75 L509.6 187.75 L510.1 187.75 L510.6 187.75 L511.1 187.75 L511.6 187.75 L512.1 187.75 L512.6 187.75 L513.1 187.75 L513.6 187.75 L514.1 187.75 L514.6 187.75 L515.1 187.75 L515.6 187.75 L516.1 187.75 L516.6 187.75 L517.1 187.75 L517.6 187.75 L518.1 187.75 L518.6 187.75 L519.1 187.75 L519.6 187.75 L520.1 187.75 L520.6 187.75 L521.1 187.75 L521.6 187.74 L522.1 187.75 L522.6 187.75 L523.1 187.75 L523.6 187.75 L524.1 187.75 L524.6 187.75 L525.1 187.75 L525.6 187.75 L526.1 187.75 L526.6 187.75 L527.1 187.75 L527.6 187.75 L528.1 187.75 L528.6 187.75 L529.1 187.75 L529.6 187.75 L530.1 187.75 L530.6 187.75 L531.1 187.75 L531.6 187.75 L532.1 187.75" fill="none" stroke="#0a0a0a" stroke-width="1.55" stroke-linejoin="round" stroke-linecap="round"/>
<text x="276.50" y="15.40" font-size="14.5" textLength="17.20" lengthAdjust="spacingAndGlyphs" fill="#0c0c0c" stroke="#0c0c0c" stroke-width="0.1">(b)</text>
<text x="311.30" y="42.80" font-size="9.8" textLength="50.20" lengthAdjust="spacingAndGlyphs" fill="#0c0c0c" stroke="#0c0c0c" stroke-width="0.12">Atmosphere:</text>
<text x="364.40" y="42.70" font-size="9.8" textLength="21.30" lengthAdjust="spacingAndGlyphs" fill="#0c0c0c" stroke="#0c0c0c" stroke-width="0.12">4N-N</text>
<text x="385.80" y="43.10" font-size="5.6" textLength="3.20" lengthAdjust="spacingAndGlyphs" fill="#0c0c0c" stroke="#0c0c0c" stroke-width="0.12">2</text>
<text x="391.70" y="42.70" font-size="9.4" textLength="7.60" lengthAdjust="spacingAndGlyphs" fill="#0c0c0c" stroke="#0c0c0c" stroke-width="0.12">@</text>
<text x="398.70" y="42.70" font-size="9.8" textLength="7.60" lengthAdjust="spacingAndGlyphs" font-style="italic" fill="#0c0c0c" stroke="#0c0c0c" stroke-width="0.12">H</text>
<text x="406.60" y="44.10" font-size="5.4" textLength="12.40" lengthAdjust="spacingAndGlyphs" font-style="italic" fill="#0c0c0c" stroke="#0c0c0c" stroke-width="0.12">max</text>
<text x="421.40" y="42.70" font-size="9.8" textLength="30.80" lengthAdjust="spacingAndGlyphs" fill="#0c0c0c" stroke="#0c0c0c" stroke-width="0.12">Holding</text>
<text x="455.30" y="42.70" font-size="9.8" textLength="18.70" lengthAdjust="spacingAndGlyphs" fill="#0c0c0c" stroke="#0c0c0c" stroke-width="0.12">Time</text>
<text x="477.60" y="42.70" font-size="9.8" textLength="19.40" lengthAdjust="spacingAndGlyphs" fill="#0c0c0c" stroke="#0c0c0c" stroke-width="0.12">2min</text>
<text x="313.00" y="58.60" font-size="10.6" textLength="48.50" lengthAdjust="spacingAndGlyphs" fill="#0c0c0c" stroke="#0c0c0c" stroke-width="0.12">λ =532 nm</text>
<text x="314.40" y="90.50" font-size="10.6" textLength="32.90" lengthAdjust="spacingAndGlyphs" fill="#0c0c0c" stroke="#0c0c0c" stroke-width="0.12">1000°C</text>
<text x="317.70" y="113.80" font-size="10.6" textLength="27.00" lengthAdjust="spacingAndGlyphs" fill="#0c0c0c" stroke="#0c0c0c" stroke-width="0.12">900°C</text>
<text x="317.20" y="136.60" font-size="10.6" textLength="27.60" lengthAdjust="spacingAndGlyphs" fill="#0c0c0c" stroke="#0c0c0c" stroke-width="0.12">800°C</text>
<text x="317.70" y="160.90" font-size="10.6" textLength="27.00" lengthAdjust="spacingAndGlyphs" fill="#0c0c0c" stroke="#0c0c0c" stroke-width="0.12">700°C</text>
<text x="317.30" y="183.70" font-size="10.6" textLength="29.50" lengthAdjust="spacingAndGlyphs" fill="#0c0c0c" stroke="#0c0c0c" stroke-width="0.12">Before</text>
<text x="408.50" y="88.60" font-size="9.6" textLength="3.00" lengthAdjust="spacingAndGlyphs" fill="#0c0c0c" stroke="#0c0c0c" stroke-width="0.12">I</text>
<text x="411.50" y="90.80" font-size="6.8" textLength="3.80" lengthAdjust="spacingAndGlyphs" fill="#0c0c0c" stroke="#0c0c0c" stroke-width="0.28">D</text>
<text x="414.70" y="88.60" font-size="9.6" textLength="6.40" lengthAdjust="spacingAndGlyphs" fill="#0c0c0c" stroke="#0c0c0c" stroke-width="0.12">/I</text>
<text x="421.30" y="90.80" font-size="6.8" textLength="4.50" lengthAdjust="spacingAndGlyphs" fill="#0c0c0c" stroke="#0c0c0c" stroke-width="0.28">G</text>
<text x="429.70" y="88.60" font-size="9.6" textLength="20.80" lengthAdjust="spacingAndGlyphs" fill="#0c0c0c" stroke="#0c0c0c" stroke-width="0.12">1.318</text>
<text x="484.30" y="87.60" font-size="9.6" textLength="3.00" lengthAdjust="spacingAndGlyphs" fill="#0c0c0c" stroke="#0c0c0c" stroke-width="0.12">I</text>
<text x="487.50" y="89.80" font-size="6.8" textLength="3.90" lengthAdjust="spacingAndGlyphs" fill="#0c0c0c" stroke="#0c0c0c" stroke-width="0.28">G</text>
<text x="491.30" y="88.40" font-size="5.5" textLength="1.20" lengthAdjust="spacingAndGlyphs" fill="#0c0c0c" stroke="#0c0c0c" stroke-width="0.12">’</text>
<text x="492.30" y="87.60" font-size="9.6" textLength="6.60" lengthAdjust="spacingAndGlyphs" fill="#0c0c0c" stroke="#0c0c0c" stroke-width="0.12">/I</text>
<text x="499.30" y="89.80" font-size="6.8" textLength="4.50" lengthAdjust="spacingAndGlyphs" fill="#0c0c0c" stroke="#0c0c0c" stroke-width="0.28">G</text>
<text x="507.30" y="87.60" font-size="9.6" textLength="20.50" lengthAdjust="spacingAndGlyphs" fill="#0c0c0c" stroke="#0c0c0c" stroke-width="0.12">0.606</text>
<text x="408.50" y="112.80" font-size="9.6" textLength="3.00" lengthAdjust="spacingAndGlyphs" fill="#0c0c0c" stroke="#0c0c0c" stroke-width="0.12">I</text>
<text x="411.50" y="115.00" font-size="6.8" textLength="3.80" lengthAdjust="spacingAndGlyphs" fill="#0c0c0c" stroke="#0c0c0c" stroke-width="0.28">D</text>
<text x="414.70" y="112.80" font-size="9.6" textLength="6.40" lengthAdjust="spacingAndGlyphs" fill="#0c0c0c" stroke="#0c0c0c" stroke-width="0.12">/I</text>
<text x="421.30" y="115.00" font-size="6.8" textLength="4.50" lengthAdjust="spacingAndGlyphs" fill="#0c0c0c" stroke="#0c0c0c" stroke-width="0.28">G</text>
<text x="429.70" y="112.80" font-size="9.6" textLength="20.80" lengthAdjust="spacingAndGlyphs" fill="#0c0c0c" stroke="#0c0c0c" stroke-width="0.12">1.426</text>
<text x="484.30" y="111.20" font-size="9.6" textLength="3.00" lengthAdjust="spacingAndGlyphs" fill="#0c0c0c" stroke="#0c0c0c" stroke-width="0.12">I</text>
<text x="487.50" y="113.40" font-size="6.8" textLength="3.90" lengthAdjust="spacingAndGlyphs" fill="#0c0c0c" stroke="#0c0c0c" stroke-width="0.28">G</text>
<text x="491.30" y="112.00" font-size="5.5" textLength="1.20" lengthAdjust="spacingAndGlyphs" fill="#0c0c0c" stroke="#0c0c0c" stroke-width="0.12">’</text>
<text x="492.30" y="111.20" font-size="9.6" textLength="6.60" lengthAdjust="spacingAndGlyphs" fill="#0c0c0c" stroke="#0c0c0c" stroke-width="0.12">/I</text>
<text x="499.30" y="113.40" font-size="6.8" textLength="4.50" lengthAdjust="spacingAndGlyphs" fill="#0c0c0c" stroke="#0c0c0c" stroke-width="0.28">G</text>
<text x="507.30" y="111.20" font-size="9.6" textLength="20.50" lengthAdjust="spacingAndGlyphs" fill="#0c0c0c" stroke="#0c0c0c" stroke-width="0.12">0.399</text>
<text x="408.50" y="135.80" font-size="9.6" textLength="3.00" lengthAdjust="spacingAndGlyphs" fill="#0c0c0c" stroke="#0c0c0c" stroke-width="0.12">I</text>
<text x="411.50" y="138.00" font-size="6.8" textLength="3.80" lengthAdjust="spacingAndGlyphs" fill="#0c0c0c" stroke="#0c0c0c" stroke-width="0.28">D</text>
<text x="414.70" y="135.80" font-size="9.6" textLength="6.40" lengthAdjust="spacingAndGlyphs" fill="#0c0c0c" stroke="#0c0c0c" stroke-width="0.12">/I</text>
<text x="421.30" y="138.00" font-size="6.8" textLength="4.50" lengthAdjust="spacingAndGlyphs" fill="#0c0c0c" stroke="#0c0c0c" stroke-width="0.28">G</text>
<text x="429.70" y="135.80" font-size="9.6" textLength="20.80" lengthAdjust="spacingAndGlyphs" fill="#0c0c0c" stroke="#0c0c0c" stroke-width="0.12">1.371</text>
<text x="484.30" y="132.20" font-size="9.6" textLength="3.00" lengthAdjust="spacingAndGlyphs" fill="#0c0c0c" stroke="#0c0c0c" stroke-width="0.12">I</text>
<text x="487.50" y="134.40" font-size="6.8" textLength="3.90" lengthAdjust="spacingAndGlyphs" fill="#0c0c0c" stroke="#0c0c0c" stroke-width="0.28">G</text>
<text x="491.30" y="133.00" font-size="5.5" textLength="1.20" lengthAdjust="spacingAndGlyphs" fill="#0c0c0c" stroke="#0c0c0c" stroke-width="0.12">’</text>
<text x="492.30" y="132.20" font-size="9.6" textLength="6.60" lengthAdjust="spacingAndGlyphs" fill="#0c0c0c" stroke="#0c0c0c" stroke-width="0.12">/I</text>
<text x="499.30" y="134.40" font-size="6.8" textLength="4.50" lengthAdjust="spacingAndGlyphs" fill="#0c0c0c" stroke="#0c0c0c" stroke-width="0.28">G</text>
<text x="507.30" y="132.20" font-size="9.6" textLength="20.50" lengthAdjust="spacingAndGlyphs" fill="#0c0c0c" stroke="#0c0c0c" stroke-width="0.12">0.337</text>
<text x="408.50" y="159.70" font-size="9.6" textLength="3.00" lengthAdjust="spacingAndGlyphs" fill="#0c0c0c" stroke="#0c0c0c" stroke-width="0.12">I</text>
<text x="411.50" y="161.90" font-size="6.8" textLength="3.80" lengthAdjust="spacingAndGlyphs" fill="#0c0c0c" stroke="#0c0c0c" stroke-width="0.28">D</text>
<text x="414.70" y="159.70" font-size="9.6" textLength="6.40" lengthAdjust="spacingAndGlyphs" fill="#0c0c0c" stroke="#0c0c0c" stroke-width="0.12">/I</text>
<text x="421.30" y="161.90" font-size="6.8" textLength="4.50" lengthAdjust="spacingAndGlyphs" fill="#0c0c0c" stroke="#0c0c0c" stroke-width="0.28">G</text>
<text x="429.70" y="159.70" font-size="9.6" textLength="20.80" lengthAdjust="spacingAndGlyphs" fill="#0c0c0c" stroke="#0c0c0c" stroke-width="0.12">1.281</text>
<text x="484.30" y="156.60" font-size="9.6" textLength="3.00" lengthAdjust="spacingAndGlyphs" fill="#0c0c0c" stroke="#0c0c0c" stroke-width="0.12">I</text>
<text x="487.50" y="158.80" font-size="6.8" textLength="3.90" lengthAdjust="spacingAndGlyphs" fill="#0c0c0c" stroke="#0c0c0c" stroke-width="0.28">G</text>
<text x="491.30" y="157.40" font-size="5.5" textLength="1.20" lengthAdjust="spacingAndGlyphs" fill="#0c0c0c" stroke="#0c0c0c" stroke-width="0.12">’</text>
<text x="492.30" y="156.60" font-size="9.6" textLength="6.60" lengthAdjust="spacingAndGlyphs" fill="#0c0c0c" stroke="#0c0c0c" stroke-width="0.12">/I</text>
<text x="499.30" y="158.80" font-size="6.8" textLength="4.50" lengthAdjust="spacingAndGlyphs" fill="#0c0c0c" stroke="#0c0c0c" stroke-width="0.28">G</text>
<text x="507.30" y="156.60" font-size="9.6" textLength="20.50" lengthAdjust="spacingAndGlyphs" fill="#0c0c0c" stroke="#0c0c0c" stroke-width="0.12">0.211</text>
<text x="408.50" y="185.00" font-size="9.6" textLength="3.00" lengthAdjust="spacingAndGlyphs" fill="#0c0c0c" stroke="#0c0c0c" stroke-width="0.12">I</text>
<text x="411.50" y="187.20" font-size="6.8" textLength="3.80" lengthAdjust="spacingAndGlyphs" fill="#0c0c0c" stroke="#0c0c0c" stroke-width="0.28">D</text>
<text x="414.70" y="185.00" font-size="9.6" textLength="6.40" lengthAdjust="spacingAndGlyphs" fill="#0c0c0c" stroke="#0c0c0c" stroke-width="0.12">/I</text>
<text x="421.30" y="187.20" font-size="6.8" textLength="4.50" lengthAdjust="spacingAndGlyphs" fill="#0c0c0c" stroke="#0c0c0c" stroke-width="0.28">G</text>
<text x="429.70" y="185.00" font-size="9.6" textLength="20.80" lengthAdjust="spacingAndGlyphs" fill="#0c0c0c" stroke="#0c0c0c" stroke-width="0.12">1.228</text>
<text x="484.30" y="181.40" font-size="9.6" textLength="3.00" lengthAdjust="spacingAndGlyphs" fill="#0c0c0c" stroke="#0c0c0c" stroke-width="0.12">I</text>
<text x="487.50" y="183.60" font-size="6.8" textLength="3.90" lengthAdjust="spacingAndGlyphs" fill="#0c0c0c" stroke="#0c0c0c" stroke-width="0.28">G</text>
<text x="491.30" y="182.20" font-size="5.5" textLength="1.20" lengthAdjust="spacingAndGlyphs" fill="#0c0c0c" stroke="#0c0c0c" stroke-width="0.12">’</text>
<text x="492.30" y="181.40" font-size="9.6" textLength="6.60" lengthAdjust="spacingAndGlyphs" fill="#0c0c0c" stroke="#0c0c0c" stroke-width="0.12">/I</text>
<text x="499.30" y="183.60" font-size="6.8" textLength="4.50" lengthAdjust="spacingAndGlyphs" fill="#0c0c0c" stroke="#0c0c0c" stroke-width="0.28">G</text>
<text x="507.30" y="181.40" font-size="9.6" textLength="20.50" lengthAdjust="spacingAndGlyphs" fill="#0c0c0c" stroke="#0c0c0c" stroke-width="0.12">0.130</text>
<text x="304.00" y="204.60" font-size="10.7" textLength="16.00" lengthAdjust="spacingAndGlyphs" fill="#0c0c0c" stroke="#0c0c0c" stroke-width="0.12">500</text>
<text x="374.53" y="204.60" font-size="10.7" textLength="22.00" lengthAdjust="spacingAndGlyphs" fill="#0c0c0c" stroke="#0c0c0c" stroke-width="0.12">1500</text>
<text x="448.06" y="204.60" font-size="10.7" textLength="22.00" lengthAdjust="spacingAndGlyphs" fill="#0c0c0c" stroke="#0c0c0c" stroke-width="0.12">2500</text>
<text x="521.59" y="204.60" font-size="10.7" textLength="22.00" lengthAdjust="spacingAndGlyphs" fill="#0c0c0c" stroke="#0c0c0c" stroke-width="0.12">3500</text>
<text x="388.30" y="229.00" font-size="11.0" textLength="88.40" lengthAdjust="spacingAndGlyphs" fill="#0c0c0c" stroke="#0c0c0c" stroke-width="0.12">Raman Shift (cm⁻¹)</text>
<g transform="translate(298.8 145.7) rotate(-90)">
<text x="0.00" y="0.00" font-size="10.6" textLength="65.60" lengthAdjust="spacingAndGlyphs" fill="#0c0c0c" stroke="#0c0c0c" stroke-width="0.12">Intensity (a.u.)</text>
</g>
<line x1="79.8" y1="432.14" x2="406.3" y2="432.14" stroke="#000" stroke-width="1.45" stroke-dasharray="6.2 3.7 1.9 3.7" stroke-dashoffset="1.8"/>
<line x1="79.8" y1="386.88" x2="406.3" y2="386.88" stroke="#000" stroke-width="1.45" stroke-dasharray="6.2 3.7 1.9 3.7" stroke-dashoffset="1.8"/>
<line x1="79.8" y1="341.62" x2="406.3" y2="341.62" stroke="#000" stroke-width="1.45" stroke-dasharray="6.2 3.7 1.9 3.7" stroke-dashoffset="1.8"/>
<line x1="79.8" y1="296.36" x2="406.3" y2="296.36" stroke="#000" stroke-width="1.45" stroke-dasharray="6.2 3.7 1.9 3.7" stroke-dashoffset="1.8"/>
<line x1="144.46" y1="251.7" x2="144.46" y2="477.4" stroke="#000" stroke-width="1.45" stroke-dasharray="6.2 3.7 1.9 3.7" stroke-dashoffset="1.35"/>
<line x1="209.92" y1="251.7" x2="209.92" y2="477.4" stroke="#000" stroke-width="1.45" stroke-dasharray="6.2 3.7 1.9 3.7" stroke-dashoffset="1.35"/>
<line x1="275.38" y1="251.7" x2="275.38" y2="477.4" stroke="#000" stroke-width="1.45" stroke-dasharray="6.2 3.7 1.9 3.7" stroke-dashoffset="1.35"/>
<line x1="340.84" y1="251.7" x2="340.84" y2="477.4" stroke="#000" stroke-width="1.45" stroke-dasharray="6.2 3.7 1.9 3.7" stroke-dashoffset="1.35"/>
<line x1="79.0" y1="454.77" x2="83.2" y2="454.77" stroke="#111" stroke-width="1.2"/>
<line x1="79.0" y1="409.51" x2="83.2" y2="409.51" stroke="#111" stroke-width="1.2"/>
<line x1="79.0" y1="364.25" x2="83.2" y2="364.25" stroke="#111" stroke-width="1.2"/>
<line x1="79.0" y1="318.99" x2="83.2" y2="318.99" stroke="#111" stroke-width="1.2"/>
<line x1="79.0" y1="273.73" x2="83.2" y2="273.73" stroke="#111" stroke-width="1.2"/>
<line x1="111.73" y1="477.4" x2="111.73" y2="473.8" stroke="#111" stroke-width="1.2"/>
<line x1="177.19" y1="477.4" x2="177.19" y2="473.8" stroke="#111" stroke-width="1.2"/>
<line x1="242.65" y1="477.4" x2="242.65" y2="473.8" stroke="#111" stroke-width="1.2"/>
<line x1="308.11" y1="477.4" x2="308.11" y2="473.8" stroke="#111" stroke-width="1.2"/>
<line x1="373.57" y1="477.4" x2="373.57" y2="473.8" stroke="#111" stroke-width="1.2"/>
<path d="M79.0 250.4 V477.4 H407.0" fill="none" stroke="#0a0a0a" stroke-width="1.4"/>
<line x1="78.3" y1="251.1" x2="405.90000000000003" y2="251.1" stroke="#0a0a0a" stroke-width="1.4"/>
<line x1="406.1" y1="251.1" x2="406.1" y2="289.5" stroke="#333" stroke-width="0.85"/>
<line x1="406.3" y1="289" x2="406.3" y2="478.09999999999997" stroke="#0a0a0a" stroke-width="1.5"/>
<line x1="144.46" y1="352.00" x2="144.46" y2="380.20" stroke="#444" stroke-width="1.25"/>
<line x1="140.76" y1="352.00" x2="148.16" y2="352.00" stroke="#444" stroke-width="1.25"/>
<line x1="140.76" y1="364.80" x2="148.16" y2="364.80" stroke="#444" stroke-width="1.25"/>
<line x1="140.76" y1="380.20" x2="148.16" y2="380.20" stroke="#444" stroke-width="1.25"/>
<line x1="144.46" y1="353.50" x2="144.46" y2="379.00" stroke="#6a6a6a" stroke-width="2.6"/>
<circle cx="144.46" cy="360.00" r="7.0" fill="none" stroke="#000" stroke-width="1.5"/>
<path d="M137.96 372.60 L144.46 366.50 L150.96 372.60 L144.46 378.70 Z" fill="none" stroke="#000" stroke-width="1.45"/>
<line x1="209.92" y1="359.20" x2="209.92" y2="395.70" stroke="#444" stroke-width="1.25"/>
<line x1="206.52" y1="361.80" x2="213.32" y2="361.80" stroke="#444" stroke-width="1.25"/>
<line x1="206.52" y1="393.90" x2="213.32" y2="393.90" stroke="#444" stroke-width="1.25"/>
<line x1="209.92" y1="374.40" x2="209.92" y2="381.70" stroke="#6a6a6a" stroke-width="2.6"/>
<circle cx="209.92" cy="379.30" r="7.0" fill="none" stroke="#000" stroke-width="1.5"/>
<path d="M203.52 377.80 L209.92 372.00 L216.32 377.80 L209.92 383.60 Z" fill="none" stroke="#000" stroke-width="1.45"/>
<line x1="275.38" y1="359.70" x2="275.38" y2="410.50" stroke="#444" stroke-width="1.25"/>
<line x1="271.58" y1="362.90" x2="279.18" y2="362.90" stroke="#444" stroke-width="1.25"/>
<line x1="271.58" y1="387.30" x2="279.18" y2="387.30" stroke="#444" stroke-width="1.25"/>
<line x1="271.58" y1="405.60" x2="279.18" y2="405.60" stroke="#444" stroke-width="1.25"/>
<line x1="275.38" y1="372.50" x2="275.38" y2="382.50" stroke="#6a6a6a" stroke-width="2.6"/>
<line x1="275.38" y1="391.00" x2="275.38" y2="403.00" stroke="#6a6a6a" stroke-width="2.6"/>
<path d="M268.68 377.50 L275.38 371.30 L282.08 377.50 L275.38 383.70 Z" fill="none" stroke="#000" stroke-width="1.45"/>
<circle cx="275.38" cy="397.00" r="7.0" fill="none" stroke="#000" stroke-width="1.5"/>
<line x1="340.84" y1="357.60" x2="340.84" y2="367.20" stroke="#444" stroke-width="1.25"/>
<line x1="337.14" y1="357.60" x2="344.54" y2="357.60" stroke="#444" stroke-width="1.25"/>
<line x1="337.14" y1="367.20" x2="344.54" y2="367.20" stroke="#444" stroke-width="1.25"/>
<line x1="340.84" y1="358.50" x2="340.84" y2="366.50" stroke="#6a6a6a" stroke-width="2.6"/>
<line x1="340.84" y1="385.90" x2="340.84" y2="403.50" stroke="#444" stroke-width="1.25"/>
<line x1="337.14" y1="385.90" x2="344.54" y2="385.90" stroke="#444" stroke-width="1.25"/>
<line x1="337.14" y1="403.50" x2="344.54" y2="403.50" stroke="#444" stroke-width="1.25"/>
<line x1="340.84" y1="390.00" x2="340.84" y2="400.00" stroke="#6a6a6a" stroke-width="2.6"/>
<circle cx="340.84" cy="362.90" r="7.0" fill="none" stroke="#000" stroke-width="1.5"/>
<path d="M334.24 395.00 L340.84 388.50 L347.44 395.00 L340.84 401.50 Z" fill="none" stroke="#000" stroke-width="1.45"/>
<rect x="253.9" y="260.3" width="143.2" height="29.1" fill="#fff" stroke="#0a0a0a" stroke-width="1.3"/>
<circle cx="271.90" cy="275.20" r="5.0" fill="none" stroke="#000" stroke-width="1.35"/>
<text x="279.00" y="280.80" font-size="17.0" textLength="41.60" lengthAdjust="spacingAndGlyphs" fill="#0c0c0c" stroke="#0c0c0c" stroke-width="0.1">Emax</text>
<path d="M333.50 275.30 L338.00 270.80 L342.50 275.30 L338.00 279.80 Z" fill="none" stroke="#000" stroke-width="1.15"/>
<text x="346.00" y="280.80" font-size="17.0" textLength="43.60" lengthAdjust="spacingAndGlyphs" fill="#0c0c0c" stroke="#0c0c0c" stroke-width="0.1">Hmax</text>
<text x="418.00" y="274.00" font-size="14.8" textLength="15.60" lengthAdjust="spacingAndGlyphs" font-weight="bold" fill="#0c0c0c" stroke="#0c0c0c" stroke-width="0.1">(c)</text>
<text x="42.00" y="482.80" font-size="16.2" textLength="20.60" lengthAdjust="spacingAndGlyphs" fill="#0c0c0c" stroke="#0c0c0c" stroke-width="0.1">0.0</text>
<text x="42.00" y="437.54" font-size="16.2" textLength="20.60" lengthAdjust="spacingAndGlyphs" fill="#0c0c0c" stroke="#0c0c0c" stroke-width="0.1">2.0</text>
<text x="42.00" y="392.28" font-size="16.2" textLength="20.60" lengthAdjust="spacingAndGlyphs" fill="#0c0c0c" stroke="#0c0c0c" stroke-width="0.1">4.0</text>
<text x="42.00" y="347.02" font-size="16.2" textLength="20.60" lengthAdjust="spacingAndGlyphs" fill="#0c0c0c" stroke="#0c0c0c" stroke-width="0.1">6.0</text>
<text x="42.00" y="301.76" font-size="16.2" textLength="20.60" lengthAdjust="spacingAndGlyphs" fill="#0c0c0c" stroke="#0c0c0c" stroke-width="0.1">8.0</text>
<text x="34.30" y="256.50" font-size="16.2" textLength="28.30" lengthAdjust="spacingAndGlyphs" fill="#0c0c0c" stroke="#0c0c0c" stroke-width="0.1">10.0</text>
<text x="66.50" y="503.60" font-size="16.2" textLength="24.60" lengthAdjust="spacingAndGlyphs" fill="#0c0c0c" stroke="#0c0c0c" stroke-width="0.1">600</text>
<text x="131.96" y="503.60" font-size="16.2" textLength="24.60" lengthAdjust="spacingAndGlyphs" fill="#0c0c0c" stroke="#0c0c0c" stroke-width="0.1">700</text>
<text x="197.42" y="503.60" font-size="16.2" textLength="24.60" lengthAdjust="spacingAndGlyphs" fill="#0c0c0c" stroke="#0c0c0c" stroke-width="0.1">800</text>
<text x="262.88" y="503.60" font-size="16.2" textLength="24.60" lengthAdjust="spacingAndGlyphs" fill="#0c0c0c" stroke="#0c0c0c" stroke-width="0.1">900</text>
<text x="324.14" y="503.60" font-size="16.2" textLength="33.00" lengthAdjust="spacingAndGlyphs" fill="#0c0c0c" stroke="#0c0c0c" stroke-width="0.1">1000</text>
<text x="389.60" y="503.60" font-size="16.2" textLength="33.00" lengthAdjust="spacingAndGlyphs" fill="#0c0c0c" stroke="#0c0c0c" stroke-width="0.1">1100</text>
<text x="145.50" y="535.20" font-size="16.4" textLength="197.80" lengthAdjust="spacingAndGlyphs" fill="#0c0c0c" stroke="#0c0c0c" stroke-width="0.1">Treatment Temperature (°C)</text>
<g transform="translate(21.2 423) rotate(-90)">
<text x="0.00" y="0.00" font-size="16.4" textLength="108.30" lengthAdjust="spacingAndGlyphs" fill="#0c0c0c" stroke="#0c0c0c" stroke-width="0.1">Oxygen (At %)</text>
</g>
</svg>
</body>
</html>
